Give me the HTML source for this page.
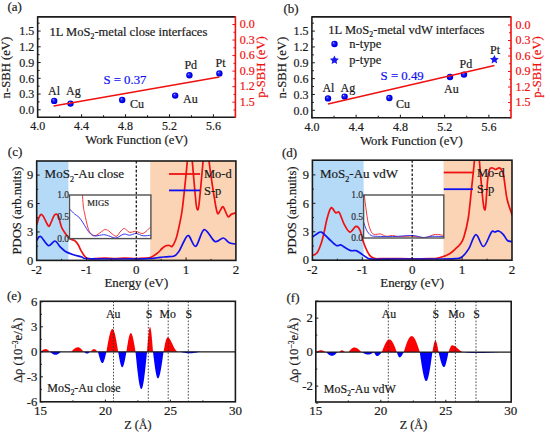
<!DOCTYPE html>
<html><head><meta charset="utf-8"><style>
html,body{margin:0;padding:0;background:#fff;}
svg{display:block;font-family:"Liberation Serif", serif;}
</style></head><body>
<svg width="550" height="435" viewBox="0 0 550 435">
<rect width="550" height="435" fill="#ffffff"/>
<defs><radialGradient id="ball" cx="0.5" cy="0.5" r="0.5" fx="0.33" fy="0.3"><stop offset="0" stop-color="#e8e8ff"/><stop offset="0.22" stop-color="#3838ff"/><stop offset="0.7" stop-color="#0000f0"/><stop offset="1" stop-color="#0000d0"/></radialGradient></defs>
<text x="7.50" y="10.60" font-size="13" text-anchor="start" fill="#1a1a1a" stroke="#1a1a1a" stroke-width="0.2" >(a)</text>
<line x1="37.65" y1="16.90" x2="235.40" y2="16.90" stroke="#1a1a1a" stroke-width="1.6" />
<line x1="37.65" y1="16.20" x2="37.65" y2="117.90" stroke="#1a1a1a" stroke-width="1.6" />
<line x1="37.65" y1="117.20" x2="235.40" y2="117.20" stroke="#1a1a1a" stroke-width="1.6" />
<line x1="235.40" y1="16.20" x2="235.40" y2="117.90" stroke="#f01010" stroke-width="1.6" />
<line x1="37.65" y1="109.80" x2="40.65" y2="109.80" stroke="#1a1a1a" stroke-width="1.0" />
<line x1="37.65" y1="101.92" x2="39.65" y2="101.92" stroke="#1a1a1a" stroke-width="1.0" />
<line x1="37.65" y1="94.05" x2="40.65" y2="94.05" stroke="#1a1a1a" stroke-width="1.0" />
<line x1="37.65" y1="86.17" x2="39.65" y2="86.17" stroke="#1a1a1a" stroke-width="1.0" />
<line x1="37.65" y1="78.30" x2="40.65" y2="78.30" stroke="#1a1a1a" stroke-width="1.0" />
<line x1="37.65" y1="70.42" x2="39.65" y2="70.42" stroke="#1a1a1a" stroke-width="1.0" />
<line x1="37.65" y1="62.55" x2="40.65" y2="62.55" stroke="#1a1a1a" stroke-width="1.0" />
<line x1="37.65" y1="54.67" x2="39.65" y2="54.67" stroke="#1a1a1a" stroke-width="1.0" />
<line x1="37.65" y1="46.80" x2="40.65" y2="46.80" stroke="#1a1a1a" stroke-width="1.0" />
<line x1="37.65" y1="38.92" x2="39.65" y2="38.92" stroke="#1a1a1a" stroke-width="1.0" />
<line x1="37.65" y1="31.05" x2="40.65" y2="31.05" stroke="#1a1a1a" stroke-width="1.0" />
<line x1="37.65" y1="23.17" x2="39.65" y2="23.17" stroke="#1a1a1a" stroke-width="1.0" />
<text x="34.15" y="114.10" font-size="12" text-anchor="end" fill="#1a1a1a" stroke="#1a1a1a" stroke-width="0.2" >0.0</text>
<text x="34.15" y="98.35" font-size="12" text-anchor="end" fill="#1a1a1a" stroke="#1a1a1a" stroke-width="0.2" >0.3</text>
<text x="34.15" y="82.60" font-size="12" text-anchor="end" fill="#1a1a1a" stroke="#1a1a1a" stroke-width="0.2" >0.6</text>
<text x="34.15" y="66.85" font-size="12" text-anchor="end" fill="#1a1a1a" stroke="#1a1a1a" stroke-width="0.2" >0.9</text>
<text x="34.15" y="51.10" font-size="12" text-anchor="end" fill="#1a1a1a" stroke="#1a1a1a" stroke-width="0.2" >1.2</text>
<text x="34.15" y="35.35" font-size="12" text-anchor="end" fill="#1a1a1a" stroke="#1a1a1a" stroke-width="0.2" >1.5</text>
<line x1="235.40" y1="24.50" x2="232.40" y2="24.50" stroke="#f01010" stroke-width="1.0" />
<line x1="235.40" y1="32.27" x2="233.40" y2="32.27" stroke="#f01010" stroke-width="1.0" />
<line x1="235.40" y1="40.04" x2="232.40" y2="40.04" stroke="#f01010" stroke-width="1.0" />
<line x1="235.40" y1="47.81" x2="233.40" y2="47.81" stroke="#f01010" stroke-width="1.0" />
<line x1="235.40" y1="55.58" x2="232.40" y2="55.58" stroke="#f01010" stroke-width="1.0" />
<line x1="235.40" y1="63.35" x2="233.40" y2="63.35" stroke="#f01010" stroke-width="1.0" />
<line x1="235.40" y1="71.12" x2="232.40" y2="71.12" stroke="#f01010" stroke-width="1.0" />
<line x1="235.40" y1="78.89" x2="233.40" y2="78.89" stroke="#f01010" stroke-width="1.0" />
<line x1="235.40" y1="86.66" x2="232.40" y2="86.66" stroke="#f01010" stroke-width="1.0" />
<line x1="235.40" y1="94.43" x2="233.40" y2="94.43" stroke="#f01010" stroke-width="1.0" />
<line x1="235.40" y1="102.20" x2="232.40" y2="102.20" stroke="#f01010" stroke-width="1.0" />
<line x1="235.40" y1="109.97" x2="233.40" y2="109.97" stroke="#f01010" stroke-width="1.0" />
<text x="239.80" y="28.10" font-size="12" text-anchor="start" fill="#f01010" stroke="#f01010" stroke-width="0.2" >0.0</text>
<text x="239.80" y="43.64" font-size="12" text-anchor="start" fill="#f01010" stroke="#f01010" stroke-width="0.2" >0.3</text>
<text x="239.80" y="59.18" font-size="12" text-anchor="start" fill="#f01010" stroke="#f01010" stroke-width="0.2" >0.6</text>
<text x="239.80" y="74.72" font-size="12" text-anchor="start" fill="#f01010" stroke="#f01010" stroke-width="0.2" >0.9</text>
<text x="239.80" y="90.26" font-size="12" text-anchor="start" fill="#f01010" stroke="#f01010" stroke-width="0.2" >1.2</text>
<text x="239.80" y="105.80" font-size="12" text-anchor="start" fill="#f01010" stroke="#f01010" stroke-width="0.2" >1.5</text>
<line x1="37.65" y1="117.20" x2="37.65" y2="114.20" stroke="#1a1a1a" stroke-width="1.0" />
<line x1="59.62" y1="117.20" x2="59.62" y2="115.20" stroke="#1a1a1a" stroke-width="1.0" />
<line x1="81.59" y1="117.20" x2="81.59" y2="114.20" stroke="#1a1a1a" stroke-width="1.0" />
<line x1="103.57" y1="117.20" x2="103.57" y2="115.20" stroke="#1a1a1a" stroke-width="1.0" />
<line x1="125.54" y1="117.20" x2="125.54" y2="114.20" stroke="#1a1a1a" stroke-width="1.0" />
<line x1="147.51" y1="117.20" x2="147.51" y2="115.20" stroke="#1a1a1a" stroke-width="1.0" />
<line x1="169.48" y1="117.20" x2="169.48" y2="114.20" stroke="#1a1a1a" stroke-width="1.0" />
<line x1="191.46" y1="117.20" x2="191.46" y2="115.20" stroke="#1a1a1a" stroke-width="1.0" />
<line x1="213.43" y1="117.20" x2="213.43" y2="114.20" stroke="#1a1a1a" stroke-width="1.0" />
<text x="37.65" y="130.30" font-size="12" text-anchor="middle" fill="#1a1a1a" stroke="#1a1a1a" stroke-width="0.2" >4.0</text>
<text x="81.59" y="130.30" font-size="12" text-anchor="middle" fill="#1a1a1a" stroke="#1a1a1a" stroke-width="0.2" >4.4</text>
<text x="125.54" y="130.30" font-size="12" text-anchor="middle" fill="#1a1a1a" stroke="#1a1a1a" stroke-width="0.2" >4.8</text>
<text x="169.48" y="130.30" font-size="12" text-anchor="middle" fill="#1a1a1a" stroke="#1a1a1a" stroke-width="0.2" >5.2</text>
<text x="213.43" y="130.30" font-size="12" text-anchor="middle" fill="#1a1a1a" stroke="#1a1a1a" stroke-width="0.2" >5.6</text>
<text x="136.53" y="144.00" font-size="12.7" text-anchor="middle" fill="#1a1a1a" stroke="#1a1a1a" stroke-width="0.2" >Work Function (eV)</text>
<text transform="translate(10.35,67.60) rotate(-90)" font-size="12.7" text-anchor="middle" fill="#1a1a1a" stroke="#1a1a1a" stroke-width="0.2">n-SBH (eV)</text>
<text transform="translate(265.30,67.00) rotate(-90)" font-size="12.7" text-anchor="middle" fill="#f01010" stroke="#f01010" stroke-width="0.2">p-SBH (eV)</text>
<text x="49.50" y="35.50" font-size="12.55" text-anchor="start" fill="#1a1a1a" stroke="#1a1a1a" stroke-width="0.2" >1L MoS<tspan font-size="0.62em" dy="0.45em">2</tspan><tspan dy="-0.279em">-metal close interfaces</tspan></text>
<circle cx="54.20" cy="100.90" r="3.2" fill="url(#ball)"/>
<circle cx="70.50" cy="103.60" r="3.2" fill="url(#ball)"/>
<circle cx="122.20" cy="100.00" r="3.2" fill="url(#ball)"/>
<circle cx="175.20" cy="95.60" r="3.2" fill="url(#ball)"/>
<circle cx="189.40" cy="75.20" r="3.2" fill="url(#ball)"/>
<circle cx="219.40" cy="73.40" r="3.2" fill="url(#ball)"/>
<line x1="53.60" y1="106.00" x2="219.40" y2="77.00" stroke="#f01010" stroke-width="1.5" />
<text x="48.00" y="94.50" font-size="12" text-anchor="start" fill="#1a1a1a" stroke="#1a1a1a" stroke-width="0.2" >Al</text>
<text x="66.00" y="95.00" font-size="12" text-anchor="start" fill="#1a1a1a" stroke="#1a1a1a" stroke-width="0.2" >Ag</text>
<text x="130.00" y="107.60" font-size="12" text-anchor="start" fill="#1a1a1a" stroke="#1a1a1a" stroke-width="0.2" >Cu</text>
<text x="183.00" y="103.40" font-size="12" text-anchor="start" fill="#1a1a1a" stroke="#1a1a1a" stroke-width="0.2" >Au</text>
<text x="184.40" y="69.00" font-size="12" text-anchor="start" fill="#1a1a1a" stroke="#1a1a1a" stroke-width="0.2" >Pd</text>
<text x="215.60" y="67.00" font-size="12" text-anchor="start" fill="#1a1a1a" stroke="#1a1a1a" stroke-width="0.2" >Pt</text>
<text x="103.40" y="84.00" font-size="12.8" text-anchor="start" fill="#1010f0" stroke="#1010f0" stroke-width="0.2" >S = 0.37</text>
<text x="283.50" y="13.00" font-size="13" text-anchor="start" fill="#1a1a1a" stroke="#1a1a1a" stroke-width="0.2" >(b)</text>
<line x1="311.90" y1="16.90" x2="511.00" y2="16.90" stroke="#1a1a1a" stroke-width="1.6" />
<line x1="311.90" y1="16.20" x2="311.90" y2="118.40" stroke="#1a1a1a" stroke-width="1.6" />
<line x1="311.90" y1="117.70" x2="511.00" y2="117.70" stroke="#1a1a1a" stroke-width="1.6" />
<line x1="511.00" y1="16.20" x2="511.00" y2="118.40" stroke="#f01010" stroke-width="1.6" />
<line x1="311.90" y1="110.30" x2="314.90" y2="110.30" stroke="#1a1a1a" stroke-width="1.0" />
<line x1="311.90" y1="102.38" x2="313.90" y2="102.38" stroke="#1a1a1a" stroke-width="1.0" />
<line x1="311.90" y1="94.46" x2="314.90" y2="94.46" stroke="#1a1a1a" stroke-width="1.0" />
<line x1="311.90" y1="86.54" x2="313.90" y2="86.54" stroke="#1a1a1a" stroke-width="1.0" />
<line x1="311.90" y1="78.62" x2="314.90" y2="78.62" stroke="#1a1a1a" stroke-width="1.0" />
<line x1="311.90" y1="70.70" x2="313.90" y2="70.70" stroke="#1a1a1a" stroke-width="1.0" />
<line x1="311.90" y1="62.78" x2="314.90" y2="62.78" stroke="#1a1a1a" stroke-width="1.0" />
<line x1="311.90" y1="54.86" x2="313.90" y2="54.86" stroke="#1a1a1a" stroke-width="1.0" />
<line x1="311.90" y1="46.94" x2="314.90" y2="46.94" stroke="#1a1a1a" stroke-width="1.0" />
<line x1="311.90" y1="39.02" x2="313.90" y2="39.02" stroke="#1a1a1a" stroke-width="1.0" />
<line x1="311.90" y1="31.10" x2="314.90" y2="31.10" stroke="#1a1a1a" stroke-width="1.0" />
<line x1="311.90" y1="23.18" x2="313.90" y2="23.18" stroke="#1a1a1a" stroke-width="1.0" />
<text x="308.40" y="114.60" font-size="12" text-anchor="end" fill="#1a1a1a" stroke="#1a1a1a" stroke-width="0.2" >0.0</text>
<text x="308.40" y="98.76" font-size="12" text-anchor="end" fill="#1a1a1a" stroke="#1a1a1a" stroke-width="0.2" >0.3</text>
<text x="308.40" y="82.92" font-size="12" text-anchor="end" fill="#1a1a1a" stroke="#1a1a1a" stroke-width="0.2" >0.6</text>
<text x="308.40" y="67.08" font-size="12" text-anchor="end" fill="#1a1a1a" stroke="#1a1a1a" stroke-width="0.2" >0.9</text>
<text x="308.40" y="51.24" font-size="12" text-anchor="end" fill="#1a1a1a" stroke="#1a1a1a" stroke-width="0.2" >1.2</text>
<text x="308.40" y="35.40" font-size="12" text-anchor="end" fill="#1a1a1a" stroke="#1a1a1a" stroke-width="0.2" >1.5</text>
<line x1="511.00" y1="25.00" x2="508.00" y2="25.00" stroke="#f01010" stroke-width="1.0" />
<line x1="511.00" y1="32.76" x2="509.00" y2="32.76" stroke="#f01010" stroke-width="1.0" />
<line x1="511.00" y1="40.51" x2="508.00" y2="40.51" stroke="#f01010" stroke-width="1.0" />
<line x1="511.00" y1="48.27" x2="509.00" y2="48.27" stroke="#f01010" stroke-width="1.0" />
<line x1="511.00" y1="56.02" x2="508.00" y2="56.02" stroke="#f01010" stroke-width="1.0" />
<line x1="511.00" y1="63.78" x2="509.00" y2="63.78" stroke="#f01010" stroke-width="1.0" />
<line x1="511.00" y1="71.53" x2="508.00" y2="71.53" stroke="#f01010" stroke-width="1.0" />
<line x1="511.00" y1="79.28" x2="509.00" y2="79.28" stroke="#f01010" stroke-width="1.0" />
<line x1="511.00" y1="87.04" x2="508.00" y2="87.04" stroke="#f01010" stroke-width="1.0" />
<line x1="511.00" y1="94.80" x2="509.00" y2="94.80" stroke="#f01010" stroke-width="1.0" />
<line x1="511.00" y1="102.55" x2="508.00" y2="102.55" stroke="#f01010" stroke-width="1.0" />
<line x1="511.00" y1="110.31" x2="509.00" y2="110.31" stroke="#f01010" stroke-width="1.0" />
<text x="515.40" y="28.60" font-size="12" text-anchor="start" fill="#f01010" stroke="#f01010" stroke-width="0.2" >0.0</text>
<text x="515.40" y="44.11" font-size="12" text-anchor="start" fill="#f01010" stroke="#f01010" stroke-width="0.2" >0.3</text>
<text x="515.40" y="59.62" font-size="12" text-anchor="start" fill="#f01010" stroke="#f01010" stroke-width="0.2" >0.6</text>
<text x="515.40" y="75.13" font-size="12" text-anchor="start" fill="#f01010" stroke="#f01010" stroke-width="0.2" >0.9</text>
<text x="515.40" y="90.64" font-size="12" text-anchor="start" fill="#f01010" stroke="#f01010" stroke-width="0.2" >1.2</text>
<text x="515.40" y="106.15" font-size="12" text-anchor="start" fill="#f01010" stroke="#f01010" stroke-width="0.2" >1.5</text>
<line x1="311.90" y1="117.70" x2="311.90" y2="114.70" stroke="#1a1a1a" stroke-width="1.0" />
<line x1="334.02" y1="117.70" x2="334.02" y2="115.70" stroke="#1a1a1a" stroke-width="1.0" />
<line x1="356.14" y1="117.70" x2="356.14" y2="114.70" stroke="#1a1a1a" stroke-width="1.0" />
<line x1="378.27" y1="117.70" x2="378.27" y2="115.70" stroke="#1a1a1a" stroke-width="1.0" />
<line x1="400.39" y1="117.70" x2="400.39" y2="114.70" stroke="#1a1a1a" stroke-width="1.0" />
<line x1="422.51" y1="117.70" x2="422.51" y2="115.70" stroke="#1a1a1a" stroke-width="1.0" />
<line x1="444.63" y1="117.70" x2="444.63" y2="114.70" stroke="#1a1a1a" stroke-width="1.0" />
<line x1="466.76" y1="117.70" x2="466.76" y2="115.70" stroke="#1a1a1a" stroke-width="1.0" />
<line x1="488.88" y1="117.70" x2="488.88" y2="114.70" stroke="#1a1a1a" stroke-width="1.0" />
<text x="311.90" y="130.80" font-size="12" text-anchor="middle" fill="#1a1a1a" stroke="#1a1a1a" stroke-width="0.2" >4.0</text>
<text x="356.14" y="130.80" font-size="12" text-anchor="middle" fill="#1a1a1a" stroke="#1a1a1a" stroke-width="0.2" >4.4</text>
<text x="400.39" y="130.80" font-size="12" text-anchor="middle" fill="#1a1a1a" stroke="#1a1a1a" stroke-width="0.2" >4.8</text>
<text x="444.63" y="130.80" font-size="12" text-anchor="middle" fill="#1a1a1a" stroke="#1a1a1a" stroke-width="0.2" >5.2</text>
<text x="488.88" y="130.80" font-size="12" text-anchor="middle" fill="#1a1a1a" stroke="#1a1a1a" stroke-width="0.2" >5.6</text>
<text x="411.45" y="144.50" font-size="12.7" text-anchor="middle" fill="#1a1a1a" stroke="#1a1a1a" stroke-width="0.2" >Work Function (eV)</text>
<text transform="translate(285.50,67.60) rotate(-90)" font-size="12.7" text-anchor="middle" fill="#1a1a1a" stroke="#1a1a1a" stroke-width="0.2">n-SBH (eV)</text>
<text transform="translate(540.90,67.00) rotate(-90)" font-size="12.7" text-anchor="middle" fill="#f01010" stroke="#f01010" stroke-width="0.2">p-SBH (eV)</text>
<text x="328.30" y="33.80" font-size="12.55" text-anchor="start" fill="#1a1a1a" stroke="#1a1a1a" stroke-width="0.2" >1L MoS<tspan font-size="0.62em" dy="0.45em">2</tspan><tspan dy="-0.279em">-metal vdW interfaces</tspan></text>
<circle cx="328.00" cy="98.40" r="3.2" fill="url(#ball)"/>
<circle cx="344.60" cy="96.60" r="3.2" fill="url(#ball)"/>
<circle cx="389.40" cy="98.00" r="3.2" fill="url(#ball)"/>
<circle cx="450.00" cy="77.00" r="3.2" fill="url(#ball)"/>
<circle cx="464.00" cy="74.60" r="3.2" fill="url(#ball)"/>
<polygon points="494.40,54.90 495.73,57.77 498.87,58.15 496.55,60.30 497.16,63.40 494.40,61.86 491.64,63.40 492.25,60.30 489.93,58.15 493.07,57.77" fill="#1a1aee"/>
<line x1="328.00" y1="104.00" x2="494.40" y2="65.60" stroke="#f01010" stroke-width="1.5" />
<text x="322.40" y="92.00" font-size="12" text-anchor="start" fill="#1a1a1a" stroke="#1a1a1a" stroke-width="0.2" >Al</text>
<text x="340.60" y="92.00" font-size="12" text-anchor="start" fill="#1a1a1a" stroke="#1a1a1a" stroke-width="0.2" >Ag</text>
<text x="396.00" y="108.00" font-size="12" text-anchor="start" fill="#1a1a1a" stroke="#1a1a1a" stroke-width="0.2" >Cu</text>
<text x="444.00" y="93.20" font-size="12" text-anchor="start" fill="#1a1a1a" stroke="#1a1a1a" stroke-width="0.2" >Au</text>
<text x="459.60" y="67.70" font-size="12" text-anchor="start" fill="#1a1a1a" stroke="#1a1a1a" stroke-width="0.2" >Pd</text>
<text x="490.00" y="54.00" font-size="12" text-anchor="start" fill="#1a1a1a" stroke="#1a1a1a" stroke-width="0.2" >Pt</text>
<text x="380.60" y="80.40" font-size="12.8" text-anchor="start" fill="#1010f0" stroke="#1010f0" stroke-width="0.2" >S = 0.49</text>
<circle cx="334.50" cy="44.00" r="3.2" fill="url(#ball)"/>
<text x="349.30" y="47.80" font-size="12.5" text-anchor="start" fill="#1a1a1a" stroke="#1a1a1a" stroke-width="0.2" >n-type</text>
<polygon points="334.40,55.50 335.73,58.37 338.87,58.75 336.55,60.90 337.16,64.00 334.40,62.46 331.64,64.00 332.25,60.90 329.93,58.75 333.07,58.37" fill="#1a1aee"/>
<text x="349.30" y="63.50" font-size="12.5" text-anchor="start" fill="#1a1a1a" stroke="#1a1a1a" stroke-width="0.2" >p-type</text>
<text x="7.80" y="156.40" font-size="13" text-anchor="start" fill="#1a1a1a" stroke="#1a1a1a" stroke-width="0.2" >(c)</text>
<rect x="36.70" y="161.00" width="31.70" height="99.40" fill="#b5daf7" stroke="none" stroke-width="1.0" />
<rect x="150.20" y="161.00" width="85.70" height="99.40" fill="#fad4b5" stroke="none" stroke-width="1.0" />
<clipPath id="clipc"><rect x="36.7" y="161.0" width="199.2" height="99.39999999999998"/></clipPath>
<g clip-path="url(#clipc)">
<path d="M36.70,224.70 C37.08,223.50 38.25,219.22 39.00,217.50 C39.75,215.78 40.47,214.57 41.20,214.40 C41.93,214.23 42.20,214.57 43.40,216.50 C44.60,218.43 47.20,224.83 48.40,226.00 C49.60,227.17 49.68,225.17 50.60,223.50 C51.52,221.83 52.95,217.55 53.90,216.00 C54.85,214.45 55.53,214.12 56.30,214.20 C57.07,214.28 57.62,214.32 58.50,216.50 C59.38,218.68 60.43,224.42 61.60,227.30 C62.77,230.18 64.30,232.05 65.50,233.80 C66.70,235.55 67.80,236.83 68.80,237.80 C69.80,238.77 70.52,239.13 71.50,239.60 C72.48,240.07 73.63,239.82 74.70,240.60 C75.77,241.38 76.82,242.58 77.90,244.30 C78.98,246.02 80.00,248.82 81.20,250.90 C82.40,252.98 83.97,255.53 85.10,256.80 C86.23,258.07 86.35,258.18 88.00,258.50 C89.65,258.82 92.17,258.75 95.00,258.70 C97.83,258.65 101.67,258.20 105.00,258.20 C108.33,258.20 111.67,258.70 115.00,258.70 C118.33,258.70 121.50,258.20 125.00,258.20 C128.50,258.20 132.58,258.70 136.00,258.70 C139.42,258.70 143.00,258.43 145.50,258.20 C148.00,257.97 148.92,258.22 151.00,257.30 C153.08,256.38 156.17,254.17 158.00,252.70 C159.83,251.23 160.67,249.65 162.00,248.50 C163.33,247.35 164.75,246.30 166.00,245.80 C167.25,245.30 168.50,245.38 169.50,245.50 C170.50,245.62 171.00,247.37 172.00,246.50 C173.00,245.63 174.43,243.12 175.50,240.30 C176.57,237.48 177.30,234.57 178.40,229.60 C179.50,224.63 180.95,218.45 182.10,210.50 C183.25,202.55 184.42,190.32 185.30,181.90 C186.18,173.48 186.65,168.98 187.40,160.00 C188.15,151.02 189.00,128.00 189.80,128.00 C190.60,128.00 191.20,147.83 192.20,160.00 C193.20,172.17 194.97,192.78 195.80,201.00 C196.63,209.22 196.65,208.88 197.20,209.30 C197.75,209.72 198.10,211.72 199.10,203.50 C200.10,195.28 202.05,172.58 203.20,160.00 C204.35,147.42 205.05,128.00 206.00,128.00 C206.95,128.00 207.62,149.03 208.90,160.00 C210.18,170.97 212.30,184.98 213.70,193.80 C215.10,202.62 216.17,210.20 217.30,212.90 C218.43,215.60 219.52,211.00 220.50,210.00 C221.48,209.00 221.95,205.82 223.20,206.90 C224.45,207.98 226.60,215.30 228.00,216.50 C229.40,217.70 230.10,214.77 231.60,214.10 C233.10,213.43 236.10,212.77 237.00,212.50" stroke="#f01010" stroke-width="1.7" fill="none" />
<path d="M36.70,240.40 C37.35,239.75 38.65,235.63 40.60,236.50 C42.55,237.37 46.00,244.85 48.40,245.60 C50.80,246.35 53.03,240.78 55.00,241.00 C56.97,241.22 58.45,245.15 60.20,246.90 C61.95,248.65 63.42,250.23 65.50,251.50 C67.58,252.77 69.98,253.58 72.70,254.50 C75.42,255.42 79.37,256.30 81.80,257.00 C84.23,257.70 80.93,258.37 87.30,258.70 C93.67,259.03 109.72,259.00 120.00,259.00 C130.28,259.00 142.33,258.98 149.00,258.70 C155.67,258.42 157.08,257.62 160.00,257.30 C162.92,256.98 164.12,257.03 166.50,256.80 C168.88,256.57 172.20,256.85 174.30,255.90 C176.40,254.95 177.50,253.50 179.10,251.10 C180.70,248.70 182.32,244.08 183.90,241.50 C185.48,238.92 186.62,234.80 188.60,235.60 C190.58,236.40 193.20,247.30 195.80,246.30 C198.40,245.30 201.02,230.40 204.20,229.60 C207.38,228.80 211.73,240.10 214.90,241.50 C218.07,242.90 220.82,237.80 223.20,238.00 C225.58,238.20 226.90,241.67 229.20,242.70 C231.50,243.73 235.70,243.95 237.00,244.20" stroke="#1010f0" stroke-width="1.7" fill="none" />
</g>
<clipPath id="iclipc"><rect x="69.5" y="195.0" width="81.4" height="43.599999999999994"/></clipPath>
<rect x="69.50" y="195.00" width="81.40" height="43.60" fill="#ffffff" stroke="none" stroke-width="1.0" />
<g clip-path="url(#iclipc)">
<path d="M81.50,180.00 C81.78,184.17 82.70,199.52 83.20,205.00 C83.70,210.48 83.95,210.07 84.50,212.90 C85.05,215.73 85.85,219.28 86.50,222.00 C87.15,224.72 87.65,227.23 88.40,229.20 C89.15,231.17 89.88,232.73 91.00,233.80 C92.12,234.87 93.77,235.65 95.10,235.60 C96.43,235.55 97.60,234.40 99.00,233.50 C100.40,232.60 102.37,230.85 103.50,230.20 C104.63,229.55 104.97,229.50 105.80,229.60 C106.63,229.70 106.82,229.68 108.50,230.80 C110.18,231.92 113.98,236.10 115.90,236.30 C117.82,236.50 118.68,233.30 120.00,232.00 C121.32,230.70 122.72,228.83 123.80,228.50 C124.88,228.17 125.47,229.35 126.50,230.00 C127.53,230.65 128.47,232.18 130.00,232.40 C131.53,232.62 133.72,231.12 135.70,231.30 C137.68,231.48 140.18,233.47 141.90,233.50 C143.62,233.53 144.48,232.67 146.00,231.50 C147.52,230.33 150.17,227.33 151.00,226.50" stroke="#f03838" stroke-width="1.0" fill="none" />
<path d="M69.50,208.90 C70.37,209.78 73.18,212.88 74.70,214.20 C76.22,215.52 77.30,215.50 78.60,216.80 C79.90,218.10 81.18,220.03 82.50,222.00 C83.82,223.97 85.18,226.63 86.50,228.60 C87.82,230.57 88.97,232.57 90.40,233.80 C91.83,235.03 92.92,235.85 95.10,236.00 C97.28,236.15 101.25,234.73 103.50,234.70 C105.75,234.67 106.53,235.25 108.60,235.80 C110.67,236.35 113.37,238.28 115.90,238.00 C118.43,237.72 121.53,234.57 123.80,234.10 C126.07,233.63 127.43,235.30 129.50,235.20 C131.57,235.10 133.95,233.40 136.20,233.50 C138.45,233.60 140.53,235.52 143.00,235.80 C145.47,236.08 149.67,235.30 151.00,235.20" stroke="#3838f0" stroke-width="1.0" fill="none" />
</g>
<line x1="136.30" y1="161.00" x2="136.30" y2="260.40" stroke="#1a1a1a" stroke-width="1.3" stroke-dasharray="2.6,1.8"/>
<rect x="69.50" y="195.00" width="81.40" height="43.60" fill="none" stroke="#505050" stroke-width="1.4" />
<text x="87.30" y="206.00" font-size="8.7" text-anchor="start" fill="#1a1a1a" stroke="#1a1a1a" stroke-width="0.2" >MIGS</text>
<text x="69.00" y="241.80" font-size="9.5" text-anchor="end" fill="#333" stroke="#333" stroke-width="0.2" >0.0</text>
<text x="69.00" y="220.00" font-size="9.5" text-anchor="end" fill="#333" stroke="#333" stroke-width="0.2" >0.5</text>
<text x="69.00" y="198.20" font-size="9.5" text-anchor="end" fill="#333" stroke="#333" stroke-width="0.2" >1.0</text>
<line x1="169.00" y1="174.00" x2="200.00" y2="174.00" stroke="#f01010" stroke-width="1.8" />
<text x="204.00" y="178.20" font-size="12.5" text-anchor="start" fill="#1a1a1a" stroke="#1a1a1a" stroke-width="0.2" >Mo-d</text>
<line x1="169.00" y1="190.40" x2="200.00" y2="190.40" stroke="#1010f0" stroke-width="1.8" />
<text x="204.00" y="194.60" font-size="12.5" text-anchor="start" fill="#1a1a1a" stroke="#1a1a1a" stroke-width="0.2" >S-p</text>
<text x="44.60" y="177.90" font-size="13" text-anchor="start" fill="#1a1a1a" stroke="#1a1a1a" stroke-width="0.2" >MoS<tspan font-size="0.62em" dy="0.45em">2</tspan><tspan dy="-0.279em">-Au close</tspan></text>
<rect x="36.70" y="161.00" width="199.20" height="99.40" fill="none" stroke="#1a1a1a" stroke-width="1.6" />
<line x1="36.70" y1="260.40" x2="39.70" y2="260.40" stroke="#1a1a1a" stroke-width="1.0" />
<line x1="36.70" y1="246.18" x2="38.20" y2="246.18" stroke="#1a1a1a" stroke-width="1.0" />
<line x1="36.70" y1="231.96" x2="39.70" y2="231.96" stroke="#1a1a1a" stroke-width="1.0" />
<line x1="36.70" y1="217.74" x2="38.20" y2="217.74" stroke="#1a1a1a" stroke-width="1.0" />
<line x1="36.70" y1="203.52" x2="39.70" y2="203.52" stroke="#1a1a1a" stroke-width="1.0" />
<line x1="36.70" y1="189.30" x2="38.20" y2="189.30" stroke="#1a1a1a" stroke-width="1.0" />
<line x1="36.70" y1="175.08" x2="39.70" y2="175.08" stroke="#1a1a1a" stroke-width="1.0" />
<text x="33.20" y="264.60" font-size="12.5" text-anchor="end" fill="#1a1a1a" stroke="#1a1a1a" stroke-width="0.2" >0</text>
<text x="33.20" y="236.16" font-size="12.5" text-anchor="end" fill="#1a1a1a" stroke="#1a1a1a" stroke-width="0.2" >3</text>
<text x="33.20" y="207.72" font-size="12.5" text-anchor="end" fill="#1a1a1a" stroke="#1a1a1a" stroke-width="0.2" >6</text>
<text x="33.20" y="179.28" font-size="12.5" text-anchor="end" fill="#1a1a1a" stroke="#1a1a1a" stroke-width="0.2" >9</text>
<line x1="61.60" y1="260.40" x2="61.60" y2="258.90" stroke="#1a1a1a" stroke-width="1.0" />
<line x1="86.50" y1="260.40" x2="86.50" y2="257.40" stroke="#1a1a1a" stroke-width="1.0" />
<line x1="111.40" y1="260.40" x2="111.40" y2="258.90" stroke="#1a1a1a" stroke-width="1.0" />
<line x1="136.30" y1="260.40" x2="136.30" y2="257.40" stroke="#1a1a1a" stroke-width="1.0" />
<line x1="161.20" y1="260.40" x2="161.20" y2="258.90" stroke="#1a1a1a" stroke-width="1.0" />
<line x1="186.10" y1="260.40" x2="186.10" y2="257.40" stroke="#1a1a1a" stroke-width="1.0" />
<line x1="211.00" y1="260.40" x2="211.00" y2="258.90" stroke="#1a1a1a" stroke-width="1.0" />
<text x="36.70" y="273.90" font-size="13" text-anchor="middle" fill="#1a1a1a" stroke="#1a1a1a" stroke-width="0.2" >-2</text>
<text x="86.50" y="273.90" font-size="13" text-anchor="middle" fill="#1a1a1a" stroke="#1a1a1a" stroke-width="0.2" >-1</text>
<text x="136.30" y="273.90" font-size="13" text-anchor="middle" fill="#1a1a1a" stroke="#1a1a1a" stroke-width="0.2" >0</text>
<text x="186.10" y="273.90" font-size="13" text-anchor="middle" fill="#1a1a1a" stroke="#1a1a1a" stroke-width="0.2" >1</text>
<text x="235.90" y="273.90" font-size="13" text-anchor="middle" fill="#1a1a1a" stroke="#1a1a1a" stroke-width="0.2" >2</text>
<text x="136.30" y="287.20" font-size="12.9" text-anchor="middle" fill="#1a1a1a" stroke="#1a1a1a" stroke-width="0.2" >Energy (eV)</text>
<text transform="translate(20.50,210.50) rotate(-90)" font-size="12.7" text-anchor="middle" fill="#1a1a1a" stroke="#1a1a1a" stroke-width="0.2">PDOS (arb.nuits)</text>
<text x="282.00" y="157.30" font-size="13" text-anchor="start" fill="#1a1a1a" stroke="#1a1a1a" stroke-width="0.2" >(d)</text>
<rect x="312.40" y="160.20" width="51.20" height="100.00" fill="#b5daf7" stroke="none" stroke-width="1.0" />
<rect x="443.50" y="160.20" width="68.50" height="100.00" fill="#fad4b5" stroke="none" stroke-width="1.0" />
<clipPath id="clipd"><rect x="312.4" y="160.2" width="199.60000000000002" height="100.0"/></clipPath>
<g clip-path="url(#clipd)">
<path d="M312.10,255.60 C312.93,255.13 315.55,254.93 317.10,252.80 C318.65,250.67 320.20,246.37 321.40,242.80 C322.60,239.23 323.35,235.45 324.30,231.40 C325.25,227.35 325.97,222.43 327.10,218.50 C328.23,214.57 329.67,208.75 331.10,207.80 C332.53,206.85 334.35,212.00 335.70,212.80 C337.05,213.60 337.78,210.68 339.20,212.60 C340.62,214.52 342.42,221.05 344.20,224.30 C345.98,227.55 347.95,231.75 349.90,232.10 C351.85,232.45 354.23,226.75 355.90,226.40 C357.57,226.05 358.52,227.03 359.90,230.00 C361.28,232.97 362.53,239.93 364.20,244.20 C365.87,248.47 368.00,253.22 369.90,255.60 C371.80,257.98 373.92,257.98 375.60,258.50 C377.28,259.02 375.93,258.67 380.00,258.70 C384.07,258.73 391.67,258.70 400.00,258.70 C408.33,258.70 423.33,258.90 430.00,258.70 C436.67,258.50 436.73,258.33 440.00,257.50 C443.27,256.67 446.82,255.33 449.60,253.70 C452.38,252.07 454.92,249.30 456.70,247.70 C458.48,246.10 459.10,245.88 460.30,244.10 C461.50,242.32 462.57,241.35 463.90,237.00 C465.23,232.65 467.03,226.00 468.30,218.00 C469.57,210.00 470.47,198.67 471.50,189.00 C472.53,179.33 473.62,170.17 474.50,160.00 C475.38,149.83 476.00,128.00 476.80,128.00 C477.60,128.00 478.30,148.10 479.30,160.00 C480.30,171.90 481.92,191.12 482.80,199.40 C483.68,207.68 484.08,208.93 484.60,209.70 C485.12,210.47 485.40,208.95 485.90,204.00 C486.40,199.05 487.00,185.75 487.60,180.00 C488.20,174.25 488.67,171.50 489.50,169.50 C490.33,167.50 491.60,168.00 492.60,168.00 C493.60,168.00 494.30,169.50 495.50,169.50 C496.70,169.50 498.48,167.13 499.80,168.00 C501.12,168.87 502.20,169.58 503.40,174.70 C504.60,179.82 505.48,191.82 507.00,198.70 C508.52,205.58 511.58,213.12 512.50,216.00" stroke="#f01010" stroke-width="1.7" fill="none" />
<path d="M312.10,237.10 C312.83,236.62 314.95,235.03 316.50,234.20 C318.05,233.37 319.40,231.38 321.40,232.10 C323.40,232.82 326.00,236.28 328.50,238.50 C331.00,240.72 334.37,244.33 336.40,245.40 C338.43,246.47 339.40,244.62 340.70,244.90 C342.00,245.18 342.53,246.15 344.20,247.10 C345.87,248.05 348.75,250.02 350.70,250.60 C352.65,251.18 354.37,250.23 355.90,250.60 C357.43,250.97 358.03,251.60 359.90,252.80 C361.77,254.00 364.95,256.73 367.10,257.80 C369.25,258.87 367.32,259.00 372.80,259.20 C378.28,259.40 388.80,259.03 400.00,259.00 C411.20,258.97 430.83,259.07 440.00,259.00 C449.17,258.93 451.42,258.88 455.00,258.60 C458.58,258.32 459.22,258.92 461.50,257.30 C463.78,255.68 466.30,252.68 468.70,248.90 C471.10,245.12 473.43,235.00 475.90,234.60 C478.37,234.20 480.92,246.90 483.50,246.50 C486.08,246.10 489.48,234.62 491.40,232.20 C493.32,229.78 493.80,232.20 495.00,232.00 C496.20,231.80 497.20,230.57 498.60,231.00 C500.00,231.43 501.92,233.02 503.40,234.60 C504.88,236.18 505.98,239.32 507.50,240.50 C509.02,241.68 511.67,241.50 512.50,241.70" stroke="#1010f0" stroke-width="1.7" fill="none" />
</g>
<clipPath id="iclipd"><rect x="363.6" y="195.0" width="80.19999999999999" height="43.0"/></clipPath>
<rect x="363.60" y="195.00" width="80.20" height="43.00" fill="#ffffff" stroke="none" stroke-width="1.0" />
<g clip-path="url(#iclipd)">
<path d="M363.60,188.00 C363.72,189.17 363.93,191.78 364.30,195.00 C364.67,198.22 365.17,202.72 365.80,207.30 C366.43,211.88 367.20,218.43 368.10,222.50 C369.00,226.57 370.18,229.72 371.20,231.70 C372.22,233.68 372.68,234.02 374.20,234.40 C375.72,234.78 378.27,233.68 380.30,234.00 C382.33,234.32 384.37,236.05 386.40,236.30 C388.43,236.55 390.47,235.45 392.50,235.50 C394.53,235.55 396.05,236.47 398.60,236.60 C401.15,236.73 405.50,236.40 407.80,236.30 C410.10,236.20 410.70,235.88 412.40,236.00 C414.10,236.12 416.22,236.75 418.00,237.00 C419.78,237.25 421.50,237.50 423.10,237.50 C424.70,237.50 425.57,237.52 427.60,237.00 C429.63,236.48 432.57,234.65 435.30,234.40 C438.03,234.15 442.55,235.32 444.00,235.50" stroke="#f03838" stroke-width="1.0" fill="none" />
<path d="M363.60,221.80 C364.10,223.20 365.33,227.92 366.60,230.20 C367.87,232.48 369.42,234.48 371.20,235.50 C372.98,236.52 373.75,236.12 377.30,236.30 C380.85,236.48 386.65,236.73 392.50,236.60 C398.35,236.47 407.30,235.35 412.40,235.50 C417.50,235.65 419.80,237.37 423.10,237.50 C426.40,237.63 428.72,236.45 432.20,236.30 C435.68,236.15 442.03,236.55 444.00,236.60" stroke="#3838f0" stroke-width="1.0" fill="none" />
</g>
<line x1="412.20" y1="160.20" x2="412.20" y2="260.20" stroke="#1a1a1a" stroke-width="1.3" stroke-dasharray="2.6,1.8"/>
<rect x="363.60" y="195.00" width="80.20" height="43.00" fill="none" stroke="#505050" stroke-width="1.4" />
<text x="363.10" y="241.20" font-size="9.5" text-anchor="end" fill="#333" stroke="#333" stroke-width="0.2" >0.0</text>
<text x="363.10" y="219.70" font-size="9.5" text-anchor="end" fill="#333" stroke="#333" stroke-width="0.2" >0.5</text>
<text x="363.10" y="198.20" font-size="9.5" text-anchor="end" fill="#333" stroke="#333" stroke-width="0.2" >1.0</text>
<line x1="443.80" y1="172.50" x2="472.90" y2="172.50" stroke="#f01010" stroke-width="1.8" />
<text x="476.90" y="176.70" font-size="12.5" text-anchor="start" fill="#1a1a1a" stroke="#1a1a1a" stroke-width="0.2" >Mo-d</text>
<line x1="443.80" y1="189.20" x2="472.90" y2="189.20" stroke="#1010f0" stroke-width="1.8" />
<text x="476.90" y="193.40" font-size="12.5" text-anchor="start" fill="#1a1a1a" stroke="#1a1a1a" stroke-width="0.2" >S-p</text>
<text x="320.00" y="177.90" font-size="13" text-anchor="start" fill="#1a1a1a" stroke="#1a1a1a" stroke-width="0.2" >MoS<tspan font-size="0.62em" dy="0.45em">2</tspan><tspan dy="-0.279em">-Au vdW</tspan></text>
<rect x="312.40" y="160.20" width="199.60" height="100.00" fill="none" stroke="#1a1a1a" stroke-width="1.6" />
<line x1="312.40" y1="260.20" x2="315.40" y2="260.20" stroke="#1a1a1a" stroke-width="1.0" />
<line x1="312.40" y1="245.98" x2="313.90" y2="245.98" stroke="#1a1a1a" stroke-width="1.0" />
<line x1="312.40" y1="231.76" x2="315.40" y2="231.76" stroke="#1a1a1a" stroke-width="1.0" />
<line x1="312.40" y1="217.54" x2="313.90" y2="217.54" stroke="#1a1a1a" stroke-width="1.0" />
<line x1="312.40" y1="203.32" x2="315.40" y2="203.32" stroke="#1a1a1a" stroke-width="1.0" />
<line x1="312.40" y1="189.10" x2="313.90" y2="189.10" stroke="#1a1a1a" stroke-width="1.0" />
<line x1="312.40" y1="174.88" x2="315.40" y2="174.88" stroke="#1a1a1a" stroke-width="1.0" />
<text x="308.90" y="264.40" font-size="12.5" text-anchor="end" fill="#1a1a1a" stroke="#1a1a1a" stroke-width="0.2" >0</text>
<text x="308.90" y="235.96" font-size="12.5" text-anchor="end" fill="#1a1a1a" stroke="#1a1a1a" stroke-width="0.2" >3</text>
<text x="308.90" y="207.52" font-size="12.5" text-anchor="end" fill="#1a1a1a" stroke="#1a1a1a" stroke-width="0.2" >6</text>
<text x="308.90" y="179.08" font-size="12.5" text-anchor="end" fill="#1a1a1a" stroke="#1a1a1a" stroke-width="0.2" >9</text>
<line x1="337.35" y1="260.20" x2="337.35" y2="258.70" stroke="#1a1a1a" stroke-width="1.0" />
<line x1="362.30" y1="260.20" x2="362.30" y2="257.20" stroke="#1a1a1a" stroke-width="1.0" />
<line x1="387.25" y1="260.20" x2="387.25" y2="258.70" stroke="#1a1a1a" stroke-width="1.0" />
<line x1="412.20" y1="260.20" x2="412.20" y2="257.20" stroke="#1a1a1a" stroke-width="1.0" />
<line x1="437.15" y1="260.20" x2="437.15" y2="258.70" stroke="#1a1a1a" stroke-width="1.0" />
<line x1="462.10" y1="260.20" x2="462.10" y2="257.20" stroke="#1a1a1a" stroke-width="1.0" />
<line x1="487.05" y1="260.20" x2="487.05" y2="258.70" stroke="#1a1a1a" stroke-width="1.0" />
<text x="312.40" y="273.90" font-size="13" text-anchor="middle" fill="#1a1a1a" stroke="#1a1a1a" stroke-width="0.2" >-2</text>
<text x="362.30" y="273.90" font-size="13" text-anchor="middle" fill="#1a1a1a" stroke="#1a1a1a" stroke-width="0.2" >-1</text>
<text x="412.20" y="273.90" font-size="13" text-anchor="middle" fill="#1a1a1a" stroke="#1a1a1a" stroke-width="0.2" >0</text>
<text x="462.10" y="273.90" font-size="13" text-anchor="middle" fill="#1a1a1a" stroke="#1a1a1a" stroke-width="0.2" >1</text>
<text x="512.00" y="273.90" font-size="13" text-anchor="middle" fill="#1a1a1a" stroke="#1a1a1a" stroke-width="0.2" >2</text>
<text x="412.20" y="287.20" font-size="12.9" text-anchor="middle" fill="#1a1a1a" stroke="#1a1a1a" stroke-width="0.2" >Energy (eV)</text>
<text transform="translate(296.20,210.50) rotate(-90)" font-size="12.7" text-anchor="middle" fill="#1a1a1a" stroke="#1a1a1a" stroke-width="0.2">PDOS (arb.nuits)</text>
<text x="7.00" y="300.30" font-size="13" text-anchor="start" fill="#1a1a1a" stroke="#1a1a1a" stroke-width="0.2" >(e)</text>
<path d="M40.40,351.80 L40.40,351.80 L40.65,351.59 L40.90,351.39 L41.15,351.18 L41.40,350.98 L41.65,350.79 L41.90,350.60 L42.15,350.41 L42.40,350.24 L42.65,350.08 L42.90,349.92 L43.15,349.78 L43.40,349.65 L43.65,349.53 L43.90,349.42 L44.15,349.33 L44.40,349.25 L44.65,349.19 L44.90,349.15 L45.15,349.12 L45.40,349.10 L45.65,349.10 L45.90,349.13 L46.15,349.17 L46.40,349.23 L46.65,349.31 L46.90,349.42 L47.15,349.54 L47.40,349.67 L47.65,349.83 L47.90,349.99 L48.15,350.18 L48.40,350.37 L48.65,350.57 L48.90,350.79 L49.15,351.01 L49.40,351.24 L49.65,351.47 L49.90,351.71 L50.15,351.80 L50.40,351.80 L50.65,351.80 L50.90,351.80 L51.15,351.80 L51.40,351.80 L51.65,351.80 L51.90,351.80 L52.15,351.80 L52.40,351.80 L52.65,351.80 L52.90,351.80 L53.15,351.80 L53.40,351.80 L53.65,351.80 L53.90,351.80 L54.15,351.80 L54.40,351.80 L54.65,351.80 L54.90,351.80 L55.15,351.80 L55.40,351.80 L55.65,351.80 L55.90,351.80 L56.15,351.80 L56.40,351.80 L56.65,351.80 L56.90,351.80 L57.15,351.80 L57.40,351.80 L57.65,351.80 L57.90,351.80 L58.15,351.80 L58.40,351.80 L58.65,351.80 L58.90,351.80 L59.15,351.80 L59.40,351.80 L59.65,351.80 L59.90,351.80 L60.15,351.80 L60.40,351.80 L60.65,351.80 L60.90,351.80 L61.15,351.80 L61.40,351.80 L61.65,351.80 L61.90,351.80 L62.15,351.80 L62.40,351.80 L62.65,351.80 L62.90,351.80 L63.15,351.80 L63.40,351.80 L63.65,351.80 L63.90,351.80 L64.15,351.80 L64.40,351.80 L64.65,351.80 L64.90,351.80 L65.15,351.80 L65.40,351.80 L65.65,351.80 L65.90,351.80 L66.15,351.80 L66.40,351.80 L66.65,351.80 L66.90,351.80 L67.15,351.80 L67.40,351.80 L67.65,351.80 L67.90,351.80 L68.15,351.80 L68.40,351.80 L68.65,351.80 L68.90,351.80 L69.15,351.80 L69.40,351.80 L69.65,351.80 L69.90,351.80 L70.15,351.80 L70.40,351.80 L70.65,351.80 L70.90,351.80 L71.15,351.65 L71.40,351.40 L71.65,351.15 L71.90,350.90 L72.15,350.65 L72.40,350.41 L72.65,350.17 L72.90,349.94 L73.15,349.71 L73.40,349.49 L73.65,349.28 L73.90,349.07 L74.15,348.88 L74.40,348.69 L74.65,348.51 L74.90,348.35 L75.15,348.19 L75.40,348.04 L75.65,347.91 L75.90,347.79 L76.15,347.68 L76.40,347.59 L76.65,347.50 L76.90,347.44 L77.15,347.38 L77.40,347.34 L77.65,347.31 L77.90,347.30 L78.15,347.30 L78.40,347.33 L78.65,347.37 L78.90,347.44 L79.15,347.53 L79.40,347.64 L79.65,347.77 L79.90,347.92 L80.15,348.09 L80.40,348.28 L80.65,348.49 L80.90,348.71 L81.15,348.95 L81.40,349.20 L81.65,349.46 L81.90,349.73 L82.15,350.02 L82.40,350.31 L82.65,350.62 L82.90,350.92 L83.15,351.23 L83.40,351.55 L83.65,351.80 L83.90,351.80 L84.15,351.80 L84.40,351.80 L84.65,351.80 L84.90,351.80 L85.15,351.80 L85.40,351.80 L85.65,351.80 L85.90,351.80 L86.15,351.80 L86.40,351.80 L86.65,351.80 L86.90,351.80 L87.15,351.80 L87.40,351.80 L87.65,351.80 L87.90,351.80 L88.15,351.80 L88.40,351.80 L88.65,351.80 L88.90,351.80 L89.15,351.80 L89.40,351.80 L89.65,351.80 L89.90,351.80 L90.15,351.80 L90.40,351.80 L90.65,351.62 L90.90,351.32 L91.15,351.02 L91.40,350.74 L91.65,350.47 L91.90,350.21 L92.15,349.98 L92.40,349.77 L92.65,349.58 L92.90,349.42 L93.15,349.29 L93.40,349.20 L93.65,349.13 L93.90,349.10 L94.15,349.11 L94.40,349.14 L94.65,349.21 L94.90,349.32 L95.15,349.45 L95.40,349.62 L95.65,349.81 L95.90,350.02 L96.15,350.26 L96.40,350.52 L96.65,350.79 L96.90,351.08 L97.15,351.38 L97.40,351.68 L97.65,351.80 L97.90,351.80 L98.15,351.80 L98.40,351.80 L98.65,351.80 L98.90,351.80 L99.15,351.80 L99.40,351.80 L99.65,351.80 L99.90,351.80 L100.15,351.80 L100.40,351.80 L100.65,351.80 L100.90,351.80 L101.15,351.80 L101.40,351.80 L101.65,351.80 L101.90,351.80 L102.15,351.80 L102.40,351.80 L102.65,351.80 L102.90,351.80 L103.15,351.80 L103.40,351.80 L103.65,351.80 L103.90,351.80 L104.15,351.80 L104.40,351.80 L104.65,351.80 L104.90,351.80 L105.15,351.80 L105.40,351.80 L105.65,351.80 L105.90,351.80 L106.15,351.80 L106.40,351.80 L106.65,350.31 L106.90,348.82 L107.15,347.35 L107.40,345.90 L107.65,344.47 L107.90,343.07 L108.15,341.72 L108.40,340.40 L108.65,339.13 L108.90,337.92 L109.15,336.77 L109.40,335.68 L109.65,334.66 L109.90,333.71 L110.15,332.84 L110.40,332.05 L110.65,331.35 L110.90,330.74 L111.15,330.21 L111.40,329.78 L111.65,329.44 L111.90,329.20 L112.15,329.05 L112.40,329.00 L112.65,329.05 L112.90,329.21 L113.15,329.47 L113.40,329.83 L113.65,330.29 L113.90,330.86 L114.15,331.51 L114.40,332.26 L114.65,333.10 L114.90,334.03 L115.15,335.04 L115.40,336.12 L115.65,337.28 L115.90,338.50 L116.15,339.78 L116.40,341.12 L116.65,342.51 L116.90,343.94 L117.15,345.40 L117.40,346.90 L117.65,348.42 L117.90,349.95 L118.15,351.49 L118.40,351.80 L118.65,351.80 L118.90,351.80 L119.15,351.80 L119.40,351.80 L119.65,351.80 L119.90,351.80 L120.15,351.80 L120.40,351.80 L120.65,351.80 L120.90,351.80 L121.15,351.80 L121.40,351.80 L121.65,351.80 L121.90,351.80 L122.15,351.80 L122.40,351.80 L122.65,351.80 L122.90,351.80 L123.15,351.80 L123.40,351.80 L123.65,351.80 L123.90,351.80 L124.15,351.80 L124.40,351.80 L124.65,351.80 L124.90,351.80 L125.15,351.80 L125.40,351.80 L125.65,351.80 L125.90,351.80 L126.15,351.80 L126.40,351.80 L126.65,350.13 L126.90,348.48 L127.15,346.85 L127.40,345.27 L127.65,343.73 L127.90,342.26 L128.15,340.86 L128.40,339.55 L128.65,338.34 L128.90,337.24 L129.15,336.25 L129.40,335.39 L129.65,334.65 L129.90,334.06 L130.15,333.60 L130.40,333.29 L130.65,333.13 L130.90,333.11 L131.15,333.23 L131.40,333.47 L131.65,333.85 L131.90,334.35 L132.15,334.97 L132.40,335.71 L132.65,336.56 L132.90,337.52 L133.15,338.58 L133.40,339.73 L133.65,340.96 L133.90,342.27 L134.15,343.65 L134.40,345.08 L134.65,346.56 L134.90,348.08 L135.15,349.62 L135.40,351.18 L135.65,351.80 L135.90,351.80 L136.15,351.80 L136.40,351.80 L136.65,351.80 L136.90,351.80 L137.15,351.80 L137.40,351.80 L137.65,351.80 L137.90,351.80 L138.15,351.80 L138.40,351.80 L138.65,351.80 L138.90,351.80 L139.15,351.80 L139.40,351.80 L139.65,351.80 L139.90,351.80 L140.15,351.80 L140.40,351.80 L140.65,351.80 L140.90,351.80 L141.15,351.80 L141.40,351.80 L141.65,351.80 L141.90,351.80 L142.15,351.80 L142.40,351.80 L142.65,351.80 L142.90,351.80 L143.15,351.80 L143.40,351.80 L143.65,351.80 L143.90,351.80 L144.15,351.80 L144.40,351.80 L144.65,351.80 L144.90,351.80 L145.15,351.80 L145.40,351.80 L145.65,351.80 L145.90,351.80 L146.15,351.80 L146.40,351.80 L146.65,351.80 L146.90,351.80 L147.15,349.85 L147.40,346.64 L147.65,343.52 L147.90,340.54 L148.15,337.75 L148.40,335.21 L148.65,332.94 L148.90,331.00 L149.15,329.42 L149.40,328.21 L149.65,327.42 L149.90,327.03 L150.15,327.08 L150.40,327.54 L150.65,328.42 L150.90,329.70 L151.15,331.36 L151.40,333.37 L151.65,335.69 L151.90,338.29 L152.15,341.12 L152.40,344.14 L152.65,347.28 L152.90,350.50 L153.15,351.80 L153.40,351.80 L153.65,351.80 L153.90,351.80 L154.15,351.80 L154.40,351.80 L154.65,351.80 L154.90,351.80 L155.15,351.80 L155.40,351.80 L155.65,351.80 L155.90,351.80 L156.15,351.80 L156.40,351.80 L156.65,351.80 L156.90,351.80 L157.15,351.80 L157.40,351.80 L157.65,351.80 L157.90,351.80 L158.15,351.80 L158.40,351.80 L158.65,351.80 L158.90,351.80 L159.15,351.80 L159.40,351.80 L159.65,351.80 L159.90,351.80 L160.15,351.80 L160.40,351.80 L160.65,351.80 L160.90,351.80 L161.15,351.80 L161.40,351.80 L161.65,351.80 L161.90,351.80 L162.15,351.80 L162.40,351.80 L162.65,351.80 L162.90,351.80 L163.15,351.80 L163.40,351.80 L163.65,350.97 L163.90,349.60 L164.15,348.25 L164.40,346.93 L164.65,345.66 L164.90,344.44 L165.15,343.29 L165.40,342.22 L165.65,341.24 L165.90,340.35 L166.15,339.57 L166.40,338.90 L166.65,338.34 L166.90,337.91 L167.15,337.61 L167.40,337.44 L167.65,337.40 L167.90,337.43 L168.15,337.51 L168.40,337.63 L168.65,337.79 L168.90,337.99 L169.15,338.24 L169.40,338.52 L169.65,338.84 L169.90,339.19 L170.15,339.58 L170.40,339.99 L170.65,340.44 L170.90,340.90 L171.15,341.39 L171.40,341.89 L171.65,342.41 L171.90,342.94 L172.15,343.48 L172.40,344.02 L172.65,344.56 L172.90,345.10 L173.15,345.64 L173.40,346.16 L173.65,346.67 L173.90,347.17 L174.15,347.65 L174.40,348.11 L174.65,348.55 L174.90,348.96 L175.15,349.35 L175.40,349.71 L175.65,350.04 L175.90,350.34 L176.15,350.61 L176.40,350.86 L176.65,351.07 L176.90,351.25 L177.15,351.40 L177.40,351.52 L177.65,351.62 L177.90,351.69 L178.15,351.75 L178.40,351.78 L178.65,351.79 L178.90,351.80 L179.15,351.80 L179.40,351.80 L179.65,351.80 L179.90,351.80 L180.15,351.80 L180.40,351.80 L180.65,351.80 L180.90,351.80 L181.15,351.80 L181.40,351.80 L181.65,351.80 L181.90,351.80 L182.15,351.80 L182.40,351.80 L182.65,351.80 L182.90,351.80 L183.15,351.80 L183.40,351.80 L183.65,351.80 L183.90,351.80 L184.15,351.80 L184.40,351.80 L184.65,351.80 L184.90,351.80 L185.15,351.80 L185.40,351.80 L185.65,351.80 L185.90,351.80 L186.15,351.80 L186.40,351.80 L186.65,351.80 L186.90,351.80 L187.15,351.80 L187.40,351.80 L187.65,351.80 L187.90,351.80 L188.15,351.80 L188.40,351.80 L188.65,351.80 L188.90,351.80 L189.15,351.80 L189.40,351.80 L189.65,351.80 L189.90,351.80 L190.15,351.80 L190.40,351.80 L190.65,351.80 L190.90,351.80 L191.15,351.80 L191.40,351.80 L191.65,351.80 L191.90,351.80 L192.15,351.80 L192.40,351.80 L192.65,351.80 L192.90,351.80 L193.15,351.80 L193.40,351.80 L193.65,351.80 L193.90,351.80 L194.15,351.80 L194.40,351.80 L194.65,351.80 L194.90,351.80 L195.15,351.80 L195.40,351.80 L195.65,351.80 L195.90,351.80 L196.15,351.80 L196.40,351.80 L196.65,351.80 L196.90,351.80 L197.15,351.80 L197.40,351.80 L197.65,351.80 L197.90,351.80 L198.15,351.80 L198.40,351.80 L198.65,351.80 L198.90,351.80 L199.15,351.80 L199.40,351.80 L199.65,351.80 L199.90,351.80 L200.15,351.80 L200.40,351.80 L200.65,351.80 L200.90,351.80 L201.15,351.80 L201.40,351.80 L201.65,351.80 L201.90,351.80 L202.15,351.80 L202.40,351.80 L202.65,351.80 L202.90,351.80 L203.15,351.80 L203.40,351.80 L203.65,351.80 L203.90,351.80 L204.15,351.80 L204.40,351.80 L204.65,351.80 L204.90,351.80 L205.15,351.80 L205.40,351.80 L205.65,351.80 L205.90,351.80 L206.15,351.80 L206.40,351.80 L206.65,351.80 L206.90,351.80 L207.15,351.80 L207.40,351.80 L207.65,351.80 L207.90,351.80 L208.15,351.80 L208.40,351.80 L208.65,351.80 L208.90,351.80 L209.15,351.80 L209.40,351.80 L209.65,351.80 L209.90,351.80 L210.15,351.80 L210.40,351.80 L210.65,351.80 L210.90,351.80 L211.15,351.80 L211.40,351.80 L211.65,351.80 L211.90,351.80 L212.15,351.80 L212.40,351.80 L212.65,351.80 L212.90,351.80 L213.15,351.80 L213.40,351.80 L213.65,351.80 L213.90,351.80 L214.15,351.80 L214.40,351.80 L214.65,351.80 L214.90,351.80 L215.15,351.80 L215.40,351.80 L215.65,351.80 L215.90,351.80 L216.15,351.80 L216.40,351.80 L216.65,351.80 L216.90,351.80 L217.15,351.80 L217.40,351.80 L217.65,351.80 L217.90,351.80 L218.15,351.80 L218.40,351.80 L218.65,351.80 L218.90,351.80 L219.15,351.80 L219.40,351.80 L219.65,351.80 L219.90,351.80 L220.15,351.80 L220.40,351.80 L220.65,351.80 L220.90,351.80 L221.15,351.80 L221.40,351.80 L221.65,351.80 L221.90,351.80 L222.15,351.80 L222.40,351.80 L222.65,351.80 L222.90,351.80 L223.15,351.80 L223.40,351.80 L223.65,351.80 L223.90,351.80 L224.15,351.80 L224.40,351.80 L224.65,351.80 L224.90,351.80 L225.15,351.80 L225.40,351.80 L225.65,351.80 L225.90,351.80 L226.15,351.80 L226.40,351.80 L226.65,351.80 L226.90,351.80 L227.15,351.80 L227.40,351.80 L227.65,351.80 L227.90,351.80 L228.15,351.80 L228.40,351.80 L228.65,351.80 L228.90,351.80 L229.15,351.80 L229.40,351.80 L229.65,351.80 L229.90,351.80 L230.15,351.80 L230.40,351.80 L230.65,351.80 L230.90,351.80 L231.15,351.80 L231.40,351.80 L231.65,351.80 L231.90,351.80 L232.15,351.80 L232.40,351.80 L232.65,351.80 L232.90,351.80 L233.15,351.80 L233.40,351.80 L233.65,351.80 L233.90,351.80 L234.15,351.80 L234.40,351.80 L234.65,351.80 L234.90,351.80 L235.15,351.80 L235.40,351.80 L235.40,351.80 Z" stroke="none" stroke-width="0" fill="#ff0000" />
<path d="M40.40,351.80 L40.40,351.80 L40.65,351.80 L40.90,351.80 L41.15,351.80 L41.40,351.80 L41.65,351.80 L41.90,351.80 L42.15,351.80 L42.40,351.80 L42.65,351.80 L42.90,351.80 L43.15,351.80 L43.40,351.80 L43.65,351.80 L43.90,351.80 L44.15,351.80 L44.40,351.80 L44.65,351.80 L44.90,351.80 L45.15,351.80 L45.40,351.80 L45.65,351.80 L45.90,351.80 L46.15,351.80 L46.40,351.80 L46.65,351.80 L46.90,351.80 L47.15,351.80 L47.40,351.80 L47.65,351.80 L47.90,351.80 L48.15,351.80 L48.40,351.80 L48.65,351.80 L48.90,351.80 L49.15,351.80 L49.40,351.80 L49.65,351.80 L49.90,351.80 L50.15,351.93 L50.40,352.14 L50.65,352.35 L50.90,352.56 L51.15,352.77 L51.40,352.97 L51.65,353.16 L51.90,353.35 L52.15,353.53 L52.40,353.70 L52.65,353.86 L52.90,354.01 L53.15,354.15 L53.40,354.28 L53.65,354.39 L53.90,354.49 L54.15,354.58 L54.40,354.65 L54.65,354.71 L54.90,354.76 L55.15,354.79 L55.40,354.80 L55.65,354.80 L55.90,354.78 L56.15,354.75 L56.40,354.70 L56.65,354.64 L56.90,354.56 L57.15,354.47 L57.40,354.37 L57.65,354.25 L57.90,354.12 L58.15,353.98 L58.40,353.83 L58.65,353.67 L58.90,353.49 L59.15,353.31 L59.40,353.12 L59.65,352.93 L59.90,352.73 L60.15,352.52 L60.40,352.31 L60.65,352.10 L60.90,351.89 L61.15,351.80 L61.40,351.80 L61.65,351.80 L61.90,351.80 L62.15,351.80 L62.40,351.80 L62.65,351.80 L62.90,351.80 L63.15,351.80 L63.40,351.80 L63.65,351.80 L63.90,351.80 L64.15,351.80 L64.40,351.80 L64.65,351.80 L64.90,351.80 L65.15,351.80 L65.40,351.80 L65.65,351.80 L65.90,351.80 L66.15,351.80 L66.40,351.80 L66.65,351.80 L66.90,351.80 L67.15,351.80 L67.40,351.80 L67.65,351.80 L67.90,351.80 L68.15,351.80 L68.40,351.80 L68.65,351.80 L68.90,351.80 L69.15,351.80 L69.40,351.80 L69.65,351.80 L69.90,351.80 L70.15,351.80 L70.40,351.80 L70.65,351.80 L70.90,351.80 L71.15,351.80 L71.40,351.80 L71.65,351.80 L71.90,351.80 L72.15,351.80 L72.40,351.80 L72.65,351.80 L72.90,351.80 L73.15,351.80 L73.40,351.80 L73.65,351.80 L73.90,351.80 L74.15,351.80 L74.40,351.80 L74.65,351.80 L74.90,351.80 L75.15,351.80 L75.40,351.80 L75.65,351.80 L75.90,351.80 L76.15,351.80 L76.40,351.80 L76.65,351.80 L76.90,351.80 L77.15,351.80 L77.40,351.80 L77.65,351.80 L77.90,351.80 L78.15,351.80 L78.40,351.80 L78.65,351.80 L78.90,351.80 L79.15,351.80 L79.40,351.80 L79.65,351.80 L79.90,351.80 L80.15,351.80 L80.40,351.80 L80.65,351.80 L80.90,351.80 L81.15,351.80 L81.40,351.80 L81.65,351.80 L81.90,351.80 L82.15,351.80 L82.40,351.80 L82.65,351.80 L82.90,351.80 L83.15,351.80 L83.40,351.80 L83.65,351.80 L83.90,351.80 L84.15,351.94 L84.40,352.17 L84.65,352.40 L84.90,352.62 L85.15,352.82 L85.40,353.00 L85.65,353.17 L85.90,353.31 L86.15,353.42 L86.40,353.51 L86.65,353.57 L86.90,353.60 L87.15,353.59 L87.40,353.56 L87.65,353.50 L87.90,353.40 L88.15,353.28 L88.40,353.14 L88.65,352.97 L88.90,352.78 L89.15,352.57 L89.40,352.36 L89.65,352.13 L89.90,351.89 L90.15,351.80 L90.40,351.80 L90.65,351.80 L90.90,351.80 L91.15,351.80 L91.40,351.80 L91.65,351.80 L91.90,351.80 L92.15,351.80 L92.40,351.80 L92.65,351.80 L92.90,351.80 L93.15,351.80 L93.40,351.80 L93.65,351.80 L93.90,351.80 L94.15,351.80 L94.40,351.80 L94.65,351.80 L94.90,351.80 L95.15,351.80 L95.40,351.80 L95.65,351.80 L95.90,351.80 L96.15,351.80 L96.40,351.80 L96.65,351.80 L96.90,351.80 L97.15,351.80 L97.40,351.80 L97.65,351.80 L97.90,351.80 L98.15,352.40 L98.40,353.41 L98.65,354.40 L98.90,355.37 L99.15,356.31 L99.40,357.22 L99.65,358.08 L99.90,358.89 L100.15,359.65 L100.40,360.34 L100.65,360.97 L100.90,361.52 L101.15,361.99 L101.40,362.39 L101.65,362.70 L101.90,362.92 L102.15,363.06 L102.40,363.10 L102.65,363.05 L102.90,362.88 L103.15,362.61 L103.40,362.24 L103.65,361.77 L103.90,361.20 L104.15,360.54 L104.40,359.79 L104.65,358.97 L104.90,358.08 L105.15,357.13 L105.40,356.12 L105.65,355.08 L105.90,354.00 L106.15,352.91 L106.40,351.80 L106.65,351.80 L106.90,351.80 L107.15,351.80 L107.40,351.80 L107.65,351.80 L107.90,351.80 L108.15,351.80 L108.40,351.80 L108.65,351.80 L108.90,351.80 L109.15,351.80 L109.40,351.80 L109.65,351.80 L109.90,351.80 L110.15,351.80 L110.40,351.80 L110.65,351.80 L110.90,351.80 L111.15,351.80 L111.40,351.80 L111.65,351.80 L111.90,351.80 L112.15,351.80 L112.40,351.80 L112.65,351.80 L112.90,351.80 L113.15,351.80 L113.40,351.80 L113.65,351.80 L113.90,351.80 L114.15,351.80 L114.40,351.80 L114.65,351.80 L114.90,351.80 L115.15,351.80 L115.40,351.80 L115.65,351.80 L115.90,351.80 L116.15,351.80 L116.40,351.80 L116.65,351.80 L116.90,351.80 L117.15,351.80 L117.40,351.80 L117.65,351.80 L117.90,351.80 L118.15,351.80 L118.40,353.02 L118.65,354.52 L118.90,356.01 L119.15,357.45 L119.40,358.84 L119.65,360.16 L119.90,361.40 L120.15,362.54 L120.40,363.59 L120.65,364.52 L120.90,365.32 L121.15,366.00 L121.40,366.54 L121.65,366.94 L121.90,367.19 L122.15,367.30 L122.40,367.26 L122.65,367.08 L122.90,366.77 L123.15,366.33 L123.40,365.77 L123.65,365.08 L123.90,364.27 L124.15,363.36 L124.40,362.34 L124.65,361.24 L124.90,360.05 L125.15,358.79 L125.40,357.46 L125.65,356.09 L125.90,354.68 L126.15,353.25 L126.40,351.80 L126.65,351.80 L126.90,351.80 L127.15,351.80 L127.40,351.80 L127.65,351.80 L127.90,351.80 L128.15,351.80 L128.40,351.80 L128.65,351.80 L128.90,351.80 L129.15,351.80 L129.40,351.80 L129.65,351.80 L129.90,351.80 L130.15,351.80 L130.40,351.80 L130.65,351.80 L130.90,351.80 L131.15,351.80 L131.40,351.80 L131.65,351.80 L131.90,351.80 L132.15,351.80 L132.40,351.80 L132.65,351.80 L132.90,351.80 L133.15,351.80 L133.40,351.80 L133.65,351.80 L133.90,351.80 L134.15,351.80 L134.40,351.80 L134.65,351.80 L134.90,351.80 L135.15,351.80 L135.40,351.80 L135.65,353.31 L135.90,355.83 L136.15,358.33 L136.40,360.80 L136.65,363.23 L136.90,365.61 L137.15,367.92 L137.40,370.16 L137.65,372.31 L137.90,374.37 L138.15,376.33 L138.40,378.18 L138.65,379.90 L138.90,381.49 L139.15,382.95 L139.40,384.27 L139.65,385.44 L139.90,386.45 L140.15,387.31 L140.40,388.00 L140.65,388.52 L140.90,388.88 L141.15,389.07 L141.40,389.09 L141.65,388.93 L141.90,388.59 L142.15,388.08 L142.40,387.40 L142.65,386.55 L142.90,385.53 L143.15,384.36 L143.40,383.03 L143.65,381.55 L143.90,379.93 L144.15,378.18 L144.40,376.30 L144.65,374.30 L144.90,372.20 L145.15,370.00 L145.40,367.72 L145.65,365.36 L145.90,362.93 L146.15,360.46 L146.40,357.94 L146.65,355.39 L146.90,352.83 L147.15,351.80 L147.40,351.80 L147.65,351.80 L147.90,351.80 L148.15,351.80 L148.40,351.80 L148.65,351.80 L148.90,351.80 L149.15,351.80 L149.40,351.80 L149.65,351.80 L149.90,351.80 L150.15,351.80 L150.40,351.80 L150.65,351.80 L150.90,351.80 L151.15,351.80 L151.40,351.80 L151.65,351.80 L151.90,351.80 L152.15,351.80 L152.40,351.80 L152.65,351.80 L152.90,351.80 L153.15,353.08 L153.40,355.20 L153.65,357.30 L153.90,359.37 L154.15,361.39 L154.40,363.34 L154.65,365.22 L154.90,367.02 L155.15,368.72 L155.40,370.31 L155.65,371.78 L155.90,373.12 L156.15,374.32 L156.40,375.38 L156.65,376.29 L156.90,377.04 L157.15,377.63 L157.40,378.06 L157.65,378.31 L157.90,378.40 L158.15,378.33 L158.40,378.14 L158.65,377.81 L158.90,377.36 L159.15,376.78 L159.40,376.08 L159.65,375.26 L159.90,374.32 L160.15,373.28 L160.40,372.12 L160.65,370.87 L160.90,369.52 L161.15,368.09 L161.40,366.58 L161.65,364.99 L161.90,363.34 L162.15,361.63 L162.40,359.88 L162.65,358.08 L162.90,356.26 L163.15,354.41 L163.40,352.55 L163.65,351.80 L163.90,351.80 L164.15,351.80 L164.40,351.80 L164.65,351.80 L164.90,351.80 L165.15,351.80 L165.40,351.80 L165.65,351.80 L165.90,351.80 L166.15,351.80 L166.40,351.80 L166.65,351.80 L166.90,351.80 L167.15,351.80 L167.40,351.80 L167.65,351.80 L167.90,351.80 L168.15,351.80 L168.40,351.80 L168.65,351.80 L168.90,351.80 L169.15,351.80 L169.40,351.80 L169.65,351.80 L169.90,351.80 L170.15,351.80 L170.40,351.80 L170.65,351.80 L170.90,351.80 L171.15,351.80 L171.40,351.80 L171.65,351.80 L171.90,351.80 L172.15,351.80 L172.40,351.80 L172.65,351.80 L172.90,351.80 L173.15,351.80 L173.40,351.80 L173.65,351.80 L173.90,351.80 L174.15,351.80 L174.40,351.80 L174.65,351.80 L174.90,351.80 L175.15,351.80 L175.40,351.80 L175.65,351.80 L175.90,351.80 L176.15,351.80 L176.40,351.80 L176.65,351.80 L176.90,351.80 L177.15,351.80 L177.40,351.80 L177.65,351.80 L177.90,351.80 L178.15,351.80 L178.40,351.80 L178.65,351.80 L178.90,351.80 L179.15,351.80 L179.40,351.80 L179.65,351.80 L179.90,351.80 L180.15,351.84 L180.40,351.90 L180.65,351.96 L180.90,352.02 L181.15,352.09 L181.40,352.15 L181.65,352.21 L181.90,352.27 L182.15,352.33 L182.40,352.39 L182.65,352.44 L182.90,352.50 L183.15,352.55 L183.40,352.61 L183.65,352.66 L183.90,352.71 L184.15,352.76 L184.40,352.81 L184.65,352.85 L184.90,352.90 L185.15,352.94 L185.40,352.98 L185.65,353.01 L185.90,353.05 L186.15,353.08 L186.40,353.12 L186.65,353.14 L186.90,353.17 L187.15,353.20 L187.40,353.22 L187.65,353.24 L187.90,353.25 L188.15,353.27 L188.40,353.28 L188.65,353.29 L188.90,353.29 L189.15,353.30 L189.40,353.30 L189.65,353.30 L189.90,353.30 L190.15,353.29 L190.40,353.28 L190.65,353.27 L190.90,353.26 L191.15,353.25 L191.40,353.23 L191.65,353.22 L191.90,353.20 L192.15,353.18 L192.40,353.15 L192.65,353.13 L192.90,353.10 L193.15,353.07 L193.40,353.04 L193.65,353.01 L193.90,352.98 L194.15,352.94 L194.40,352.91 L194.65,352.87 L194.90,352.83 L195.15,352.79 L195.40,352.75 L195.65,352.70 L195.90,352.66 L196.15,352.61 L196.40,352.56 L196.65,352.51 L196.90,352.47 L197.15,352.41 L197.40,352.36 L197.65,352.31 L197.90,352.26 L198.15,352.21 L198.40,352.15 L198.65,352.10 L198.90,352.04 L199.15,351.99 L199.40,351.93 L199.65,351.88 L199.90,351.82 L200.15,351.80 L200.40,351.80 L200.65,351.80 L200.90,351.80 L201.15,351.80 L201.40,351.80 L201.65,351.80 L201.90,351.80 L202.15,351.80 L202.40,351.80 L202.65,351.80 L202.90,351.80 L203.15,351.80 L203.40,351.80 L203.65,351.80 L203.90,351.80 L204.15,351.80 L204.40,351.80 L204.65,351.80 L204.90,351.80 L205.15,351.80 L205.40,351.80 L205.65,351.80 L205.90,351.80 L206.15,351.80 L206.40,351.80 L206.65,351.80 L206.90,351.80 L207.15,351.80 L207.40,351.80 L207.65,351.80 L207.90,351.80 L208.15,351.80 L208.40,351.80 L208.65,351.80 L208.90,351.80 L209.15,351.80 L209.40,351.80 L209.65,351.80 L209.90,351.80 L210.15,351.80 L210.40,351.80 L210.65,351.80 L210.90,351.80 L211.15,351.80 L211.40,351.80 L211.65,351.80 L211.90,351.80 L212.15,351.80 L212.40,351.80 L212.65,351.80 L212.90,351.80 L213.15,351.80 L213.40,351.80 L213.65,351.80 L213.90,351.80 L214.15,351.80 L214.40,351.80 L214.65,351.80 L214.90,351.80 L215.15,351.80 L215.40,351.80 L215.65,351.80 L215.90,351.80 L216.15,351.80 L216.40,351.80 L216.65,351.80 L216.90,351.80 L217.15,351.80 L217.40,351.80 L217.65,351.80 L217.90,351.80 L218.15,351.80 L218.40,351.80 L218.65,351.80 L218.90,351.80 L219.15,351.80 L219.40,351.80 L219.65,351.80 L219.90,351.80 L220.15,351.80 L220.40,351.80 L220.65,351.80 L220.90,351.80 L221.15,351.80 L221.40,351.80 L221.65,351.80 L221.90,351.80 L222.15,351.80 L222.40,351.80 L222.65,351.80 L222.90,351.80 L223.15,351.80 L223.40,351.80 L223.65,351.80 L223.90,351.80 L224.15,351.80 L224.40,351.80 L224.65,351.80 L224.90,351.80 L225.15,351.80 L225.40,351.80 L225.65,351.80 L225.90,351.80 L226.15,351.80 L226.40,351.80 L226.65,351.80 L226.90,351.80 L227.15,351.80 L227.40,351.80 L227.65,351.80 L227.90,351.80 L228.15,351.80 L228.40,351.80 L228.65,351.80 L228.90,351.80 L229.15,351.80 L229.40,351.80 L229.65,351.80 L229.90,351.80 L230.15,351.80 L230.40,351.80 L230.65,351.80 L230.90,351.80 L231.15,351.80 L231.40,351.80 L231.65,351.80 L231.90,351.80 L232.15,351.80 L232.40,351.80 L232.65,351.80 L232.90,351.80 L233.15,351.80 L233.40,351.80 L233.65,351.80 L233.90,351.80 L234.15,351.80 L234.40,351.80 L234.65,351.80 L234.90,351.80 L235.15,351.80 L235.40,351.80 L235.40,351.80 Z" stroke="none" stroke-width="0" fill="#0000ff" />
<line x1="40.40" y1="351.80" x2="235.40" y2="351.80" stroke="#1a1a1a" stroke-width="1.2" />
<line x1="113.50" y1="301.30" x2="113.50" y2="401.80" stroke="#333" stroke-width="0.9" stroke-dasharray="1.6,1.6"/>
<line x1="148.30" y1="301.30" x2="148.30" y2="401.80" stroke="#333" stroke-width="0.9" stroke-dasharray="1.6,1.6"/>
<line x1="168.20" y1="301.30" x2="168.20" y2="401.80" stroke="#333" stroke-width="0.9" stroke-dasharray="1.6,1.6"/>
<line x1="188.30" y1="301.30" x2="188.30" y2="401.80" stroke="#333" stroke-width="0.9" stroke-dasharray="1.6,1.6"/>
<text x="113.20" y="318.00" font-size="11.8" text-anchor="middle" fill="#1a1a1a" stroke="#1a1a1a" stroke-width="0.2" >Au</text>
<text x="149.00" y="318.00" font-size="11.8" text-anchor="middle" fill="#1a1a1a" stroke="#1a1a1a" stroke-width="0.2" >S</text>
<text x="167.60" y="318.00" font-size="11.8" text-anchor="middle" fill="#1a1a1a" stroke="#1a1a1a" stroke-width="0.2" >Mo</text>
<text x="188.70" y="318.00" font-size="11.8" text-anchor="middle" fill="#1a1a1a" stroke="#1a1a1a" stroke-width="0.2" >S</text>
<rect x="40.40" y="301.30" width="195.00" height="100.50" fill="none" stroke="#1a1a1a" stroke-width="1.6" />
<line x1="40.40" y1="301.80" x2="42.90" y2="301.80" stroke="#1a1a1a" stroke-width="1.0" />
<text x="37.40" y="305.50" font-size="12.7" text-anchor="end" fill="#1a1a1a" stroke="#1a1a1a" stroke-width="0.2" >6</text>
<line x1="40.40" y1="314.30" x2="41.90" y2="314.30" stroke="#1a1a1a" stroke-width="1.0" />
<line x1="40.40" y1="326.80" x2="42.90" y2="326.80" stroke="#1a1a1a" stroke-width="1.0" />
<text x="37.40" y="330.50" font-size="12.7" text-anchor="end" fill="#1a1a1a" stroke="#1a1a1a" stroke-width="0.2" >3</text>
<line x1="40.40" y1="339.30" x2="41.90" y2="339.30" stroke="#1a1a1a" stroke-width="1.0" />
<line x1="40.40" y1="351.80" x2="42.90" y2="351.80" stroke="#1a1a1a" stroke-width="1.0" />
<text x="37.40" y="355.50" font-size="12.7" text-anchor="end" fill="#1a1a1a" stroke="#1a1a1a" stroke-width="0.2" >0</text>
<line x1="40.40" y1="364.30" x2="41.90" y2="364.30" stroke="#1a1a1a" stroke-width="1.0" />
<line x1="40.40" y1="376.80" x2="42.90" y2="376.80" stroke="#1a1a1a" stroke-width="1.0" />
<text x="37.40" y="380.50" font-size="12.7" text-anchor="end" fill="#1a1a1a" stroke="#1a1a1a" stroke-width="0.2" >-3</text>
<line x1="40.40" y1="389.30" x2="41.90" y2="389.30" stroke="#1a1a1a" stroke-width="1.0" />
<line x1="40.40" y1="401.80" x2="42.90" y2="401.80" stroke="#1a1a1a" stroke-width="1.0" />
<text x="37.40" y="405.50" font-size="12.7" text-anchor="end" fill="#1a1a1a" stroke="#1a1a1a" stroke-width="0.2" >-6</text>
<line x1="72.90" y1="401.80" x2="72.90" y2="400.30" stroke="#1a1a1a" stroke-width="1.0" />
<line x1="105.40" y1="401.80" x2="105.40" y2="399.60" stroke="#1a1a1a" stroke-width="1.0" />
<line x1="137.90" y1="401.80" x2="137.90" y2="400.30" stroke="#1a1a1a" stroke-width="1.0" />
<line x1="170.40" y1="401.80" x2="170.40" y2="399.60" stroke="#1a1a1a" stroke-width="1.0" />
<line x1="202.90" y1="401.80" x2="202.90" y2="400.30" stroke="#1a1a1a" stroke-width="1.0" />
<text x="40.40" y="414.70" font-size="13" text-anchor="middle" fill="#1a1a1a" stroke="#1a1a1a" stroke-width="0.2" >15</text>
<text x="105.40" y="414.70" font-size="13" text-anchor="middle" fill="#1a1a1a" stroke="#1a1a1a" stroke-width="0.2" >20</text>
<text x="170.40" y="414.70" font-size="13" text-anchor="middle" fill="#1a1a1a" stroke="#1a1a1a" stroke-width="0.2" >25</text>
<text x="235.40" y="414.70" font-size="13" text-anchor="middle" fill="#1a1a1a" stroke="#1a1a1a" stroke-width="0.2" >30</text>
<text x="137.90" y="429.20" font-size="12.2" text-anchor="middle" fill="#1a1a1a" stroke="#1a1a1a" stroke-width="0.2" >Z (Å)</text>
<text transform="translate(21.60,350.50) rotate(-90)" font-size="12.7" text-anchor="middle" fill="#1a1a1a" stroke="#1a1a1a" stroke-width="0.2">Δρ (10<tspan font-size="0.6em" dy="-4">−3</tspan><tspan dy="4">e/Å)</tspan></text>
<text x="47.30" y="392.10" font-size="12" text-anchor="start" fill="#1a1a1a" stroke="#1a1a1a" stroke-width="0.2" >MoS<tspan font-size="0.62em" dy="0.45em">2</tspan><tspan dy="-0.279em">-Au close</tspan></text>
<text x="286.50" y="302.30" font-size="13" text-anchor="start" fill="#1a1a1a" stroke="#1a1a1a" stroke-width="0.2" >(f)</text>
<path d="M315.80,352.10 L315.80,352.10 L316.05,351.96 L316.30,351.83 L316.55,351.70 L316.80,351.56 L317.05,351.44 L317.30,351.31 L317.55,351.19 L317.80,351.08 L318.05,350.97 L318.30,350.87 L318.55,350.77 L318.80,350.68 L319.05,350.60 L319.30,350.53 L319.55,350.47 L319.80,350.42 L320.05,350.37 L320.30,350.34 L320.55,350.32 L320.80,350.30 L321.05,350.30 L321.30,350.31 L321.55,350.33 L321.80,350.37 L322.05,350.42 L322.30,350.48 L322.55,350.56 L322.80,350.64 L323.05,350.74 L323.30,350.85 L323.55,350.97 L323.80,351.09 L324.05,351.23 L324.30,351.37 L324.55,351.51 L324.80,351.66 L325.05,351.82 L325.30,351.97 L325.55,352.10 L325.80,352.10 L326.05,352.10 L326.30,352.10 L326.55,352.10 L326.80,352.10 L327.05,352.10 L327.30,352.10 L327.55,352.10 L327.80,352.10 L328.05,352.10 L328.30,352.10 L328.55,352.10 L328.80,352.10 L329.05,352.10 L329.30,352.10 L329.55,352.10 L329.80,352.10 L330.05,352.10 L330.30,352.10 L330.55,352.10 L330.80,352.10 L331.05,352.10 L331.30,352.10 L331.55,352.10 L331.80,352.10 L332.05,352.10 L332.30,352.10 L332.55,352.10 L332.80,352.10 L333.05,352.10 L333.30,352.10 L333.55,352.10 L333.80,352.10 L334.05,352.10 L334.30,352.10 L334.55,352.10 L334.80,352.10 L335.05,352.10 L335.30,352.10 L335.55,352.10 L335.80,352.10 L336.05,352.10 L336.30,352.10 L336.55,352.10 L336.80,352.10 L337.05,352.10 L337.30,352.10 L337.55,352.10 L337.80,352.10 L338.05,352.10 L338.30,352.10 L338.55,352.10 L338.80,352.10 L339.05,352.10 L339.30,352.10 L339.55,351.84 L339.80,351.58 L340.05,351.34 L340.30,351.11 L340.55,350.90 L340.80,350.72 L341.05,350.57 L341.30,350.45 L341.55,350.36 L341.80,350.31 L342.05,350.30 L342.30,350.33 L342.55,350.39 L342.80,350.48 L343.05,350.60 L343.30,350.76 L343.55,350.94 L343.80,351.14 L344.05,351.36 L344.30,351.60 L344.55,351.85 L344.80,352.10 L345.05,352.10 L345.30,352.10 L345.55,352.10 L345.80,352.10 L346.05,352.10 L346.30,352.10 L346.55,352.10 L346.80,352.10 L347.05,352.10 L347.30,352.10 L347.55,352.10 L347.80,352.10 L348.05,352.10 L348.30,352.10 L348.55,352.04 L348.80,351.73 L349.05,351.43 L349.30,351.13 L349.55,350.83 L349.80,350.54 L350.05,350.26 L350.30,349.98 L350.55,349.71 L350.80,349.46 L351.05,349.21 L351.30,348.98 L351.55,348.76 L351.80,348.56 L352.05,348.37 L352.30,348.20 L352.55,348.05 L352.80,347.91 L353.05,347.79 L353.30,347.70 L353.55,347.62 L353.80,347.56 L354.05,347.52 L354.30,347.50 L354.55,347.50 L354.80,347.52 L355.05,347.55 L355.30,347.59 L355.55,347.65 L355.80,347.73 L356.05,347.81 L356.30,347.91 L356.55,348.03 L356.80,348.15 L357.05,348.29 L357.30,348.44 L357.55,348.60 L357.80,348.78 L358.05,348.96 L358.30,349.15 L358.55,349.35 L358.80,349.57 L359.05,349.79 L359.30,350.01 L359.55,350.24 L359.80,350.48 L360.05,350.73 L360.30,350.98 L360.55,351.23 L360.80,351.48 L361.05,351.74 L361.30,352.00 L361.55,352.10 L361.80,352.10 L362.05,352.10 L362.30,352.10 L362.55,352.10 L362.80,352.10 L363.05,352.10 L363.30,352.10 L363.55,352.10 L363.80,352.10 L364.05,352.10 L364.30,352.10 L364.55,352.10 L364.80,352.10 L365.05,352.10 L365.30,352.10 L365.55,352.10 L365.80,352.10 L366.05,352.10 L366.30,352.10 L366.55,352.10 L366.80,352.10 L367.05,352.10 L367.30,352.10 L367.55,352.10 L367.80,352.10 L368.05,352.10 L368.30,352.10 L368.55,352.10 L368.80,352.10 L369.05,352.10 L369.30,352.10 L369.55,352.10 L369.80,352.10 L370.05,352.10 L370.30,352.10 L370.55,352.10 L370.80,352.10 L371.05,352.10 L371.30,352.10 L371.55,352.10 L371.80,352.10 L372.05,352.10 L372.30,352.10 L372.55,352.10 L372.80,352.10 L373.05,352.10 L373.30,352.10 L373.55,352.10 L373.80,352.10 L374.05,352.10 L374.30,352.10 L374.55,352.10 L374.80,352.10 L375.05,352.10 L375.30,352.10 L375.55,352.10 L375.80,352.10 L376.05,352.10 L376.30,352.10 L376.55,352.10 L376.80,352.10 L377.05,352.10 L377.30,352.10 L377.55,352.10 L377.80,352.10 L378.05,352.10 L378.30,352.10 L378.55,352.10 L378.80,352.10 L379.05,352.10 L379.30,352.10 L379.55,352.10 L379.80,352.10 L380.05,352.10 L380.30,352.10 L380.55,352.10 L380.80,352.10 L381.05,352.10 L381.30,352.10 L381.55,352.10 L381.80,352.10 L382.05,351.44 L382.30,350.79 L382.55,350.14 L382.80,349.49 L383.05,348.86 L383.30,348.23 L383.55,347.61 L383.80,347.00 L384.05,346.40 L384.30,345.83 L384.55,345.26 L384.80,344.72 L385.05,344.20 L385.30,343.69 L385.55,343.21 L385.80,342.76 L386.05,342.32 L386.30,341.92 L386.55,341.54 L386.80,341.19 L387.05,340.87 L387.30,340.58 L387.55,340.32 L387.80,340.09 L388.05,339.89 L388.30,339.73 L388.55,339.60 L388.80,339.50 L389.05,339.43 L389.30,339.40 L389.55,339.41 L389.80,339.45 L390.05,339.52 L390.30,339.63 L390.55,339.78 L390.80,339.96 L391.05,340.17 L391.30,340.42 L391.55,340.70 L391.80,341.01 L392.05,341.36 L392.30,341.73 L392.55,342.13 L392.80,342.57 L393.05,343.02 L393.30,343.51 L393.55,344.02 L393.80,344.55 L394.05,345.10 L394.30,345.67 L394.55,346.26 L394.80,346.87 L395.05,347.49 L395.30,348.12 L395.55,348.77 L395.80,349.42 L396.05,350.09 L396.30,350.75 L396.55,351.43 L396.80,352.10 L397.05,352.10 L397.30,352.10 L397.55,352.10 L397.80,352.10 L398.05,352.10 L398.30,352.10 L398.55,352.10 L398.80,352.10 L399.05,352.10 L399.30,352.10 L399.55,352.10 L399.80,352.10 L400.05,352.10 L400.30,352.10 L400.55,352.10 L400.80,352.10 L401.05,352.10 L401.30,352.10 L401.55,352.10 L401.80,352.10 L402.05,352.10 L402.30,352.10 L402.55,352.10 L402.80,352.10 L403.05,352.10 L403.30,352.10 L403.55,352.10 L403.80,351.79 L404.05,351.00 L404.30,350.22 L404.55,349.44 L404.80,348.67 L405.05,347.91 L405.30,347.16 L405.55,346.42 L405.80,345.69 L406.05,344.98 L406.30,344.28 L406.55,343.61 L406.80,342.95 L407.05,342.32 L407.30,341.71 L407.55,341.12 L407.80,340.57 L408.05,340.04 L408.30,339.53 L408.55,339.06 L408.80,338.62 L409.05,338.22 L409.30,337.84 L409.55,337.50 L409.80,337.20 L410.05,336.93 L410.30,336.70 L410.55,336.51 L410.80,336.35 L411.05,336.23 L411.30,336.15 L411.55,336.11 L411.80,336.10 L412.05,336.14 L412.30,336.21 L412.55,336.32 L412.80,336.46 L413.05,336.65 L413.30,336.86 L413.55,337.12 L413.80,337.41 L414.05,337.73 L414.30,338.09 L414.55,338.48 L414.80,338.91 L415.05,339.36 L415.30,339.84 L415.55,340.36 L415.80,340.90 L416.05,341.46 L416.30,342.06 L416.55,342.67 L416.80,343.31 L417.05,343.97 L417.30,344.64 L417.55,345.34 L417.80,346.05 L418.05,346.77 L418.30,347.51 L418.55,348.26 L418.80,349.02 L419.05,349.78 L419.30,350.55 L419.55,351.32 L419.80,352.10 L420.05,352.10 L420.30,352.10 L420.55,352.10 L420.80,352.10 L421.05,352.10 L421.30,352.10 L421.55,352.10 L421.80,352.10 L422.05,352.10 L422.30,352.10 L422.55,352.10 L422.80,352.10 L423.05,352.10 L423.30,352.10 L423.55,352.10 L423.80,352.10 L424.05,352.10 L424.30,352.10 L424.55,352.10 L424.80,352.10 L425.05,352.10 L425.30,352.10 L425.55,352.10 L425.80,352.10 L426.05,352.10 L426.30,352.10 L426.55,352.10 L426.80,352.10 L427.05,352.10 L427.30,352.10 L427.55,352.10 L427.80,352.10 L428.05,352.10 L428.30,352.10 L428.55,352.10 L428.80,352.10 L429.05,352.10 L429.30,352.10 L429.55,352.10 L429.80,352.10 L430.05,352.10 L430.30,352.10 L430.55,352.10 L430.80,352.10 L431.05,352.10 L431.30,352.10 L431.55,352.10 L431.80,352.10 L432.05,352.10 L432.30,352.10 L432.55,351.20 L432.80,349.71 L433.05,348.26 L433.30,346.88 L433.55,345.59 L433.80,344.40 L434.05,343.36 L434.30,342.46 L434.55,341.72 L434.80,341.16 L435.05,340.79 L435.30,340.62 L435.55,340.63 L435.80,340.82 L436.05,341.18 L436.30,341.70 L436.55,342.38 L436.80,343.21 L437.05,344.17 L437.30,345.25 L437.55,346.43 L437.80,347.70 L438.05,349.03 L438.30,350.41 L438.55,351.82 L438.80,352.10 L439.05,352.10 L439.30,352.10 L439.55,352.10 L439.80,352.10 L440.05,352.10 L440.30,352.10 L440.55,352.10 L440.80,352.10 L441.05,352.10 L441.30,352.10 L441.55,352.10 L441.80,352.10 L442.05,352.10 L442.30,352.10 L442.55,352.10 L442.80,352.10 L443.05,352.10 L443.30,352.10 L443.55,352.10 L443.80,352.10 L444.05,352.10 L444.30,352.10 L444.55,352.10 L444.80,352.10 L445.05,352.10 L445.30,352.10 L445.55,352.10 L445.80,352.10 L446.05,352.10 L446.30,352.10 L446.55,352.10 L446.80,352.10 L447.05,352.10 L447.30,352.10 L447.55,352.10 L447.80,352.10 L448.05,352.10 L448.30,352.10 L448.55,351.96 L448.80,351.24 L449.05,350.53 L449.30,349.83 L449.55,349.17 L449.80,348.53 L450.05,347.94 L450.30,347.39 L450.55,346.90 L450.80,346.47 L451.05,346.09 L451.30,345.79 L451.55,345.56 L451.80,345.40 L452.05,345.31 L452.30,345.30 L452.55,345.32 L452.80,345.35 L453.05,345.40 L453.30,345.46 L453.55,345.54 L453.80,345.63 L454.05,345.74 L454.30,345.87 L454.55,346.01 L454.80,346.16 L455.05,346.32 L455.30,346.49 L455.55,346.68 L455.80,346.87 L456.05,347.07 L456.30,347.28 L456.55,347.49 L456.80,347.71 L457.05,347.94 L457.30,348.16 L457.55,348.39 L457.80,348.62 L458.05,348.85 L458.30,349.07 L458.55,349.29 L458.80,349.51 L459.05,349.73 L459.30,349.94 L459.55,350.14 L459.80,350.33 L460.05,350.52 L460.30,350.69 L460.55,350.86 L460.80,351.02 L461.05,351.17 L461.30,351.30 L461.55,351.43 L461.80,351.54 L462.05,351.64 L462.30,351.73 L462.55,351.81 L462.80,351.88 L463.05,351.94 L463.30,351.99 L463.55,352.02 L463.80,352.05 L464.05,352.07 L464.30,352.09 L464.55,352.10 L464.80,352.10 L465.05,352.10 L465.30,352.10 L465.55,352.10 L465.80,352.10 L466.05,352.10 L466.30,352.10 L466.55,352.10 L466.80,352.10 L467.05,352.10 L467.30,352.10 L467.55,352.10 L467.80,352.10 L468.05,352.10 L468.30,352.10 L468.55,352.10 L468.80,352.10 L469.05,352.10 L469.30,352.10 L469.55,352.10 L469.80,352.10 L470.05,352.10 L470.30,352.10 L470.55,352.10 L470.80,352.10 L471.05,352.10 L471.30,352.10 L471.55,352.10 L471.80,352.10 L472.05,352.10 L472.30,352.10 L472.55,352.10 L472.80,352.10 L473.05,352.10 L473.30,352.10 L473.55,352.10 L473.80,352.10 L474.05,352.10 L474.30,352.10 L474.55,352.10 L474.80,352.10 L475.05,352.10 L475.30,352.10 L475.55,352.10 L475.80,352.10 L476.05,352.10 L476.30,352.10 L476.55,352.10 L476.80,352.10 L477.05,352.10 L477.30,352.10 L477.55,352.10 L477.80,352.10 L478.05,352.10 L478.30,352.10 L478.55,352.10 L478.80,352.10 L479.05,352.10 L479.30,352.10 L479.55,352.10 L479.80,352.10 L480.05,352.10 L480.30,352.10 L480.55,352.10 L480.80,352.10 L481.05,352.10 L481.30,352.10 L481.55,352.10 L481.80,352.10 L482.05,352.10 L482.30,352.10 L482.55,352.10 L482.80,352.10 L483.05,352.10 L483.30,352.10 L483.55,352.10 L483.80,352.10 L484.05,352.10 L484.30,352.10 L484.55,352.10 L484.80,352.10 L485.05,352.10 L485.30,352.10 L485.55,352.10 L485.80,352.10 L486.05,352.10 L486.30,352.10 L486.55,352.10 L486.80,352.10 L487.05,352.10 L487.30,352.10 L487.55,352.10 L487.80,352.10 L488.05,352.10 L488.30,352.10 L488.55,352.10 L488.80,352.10 L489.05,352.10 L489.30,352.10 L489.55,352.10 L489.80,352.10 L490.05,352.10 L490.30,352.10 L490.55,352.10 L490.80,352.10 L491.05,352.10 L491.30,352.10 L491.55,352.10 L491.80,352.10 L492.05,352.10 L492.30,352.10 L492.55,352.10 L492.80,352.10 L493.05,352.10 L493.30,352.10 L493.55,352.10 L493.80,352.10 L494.05,352.10 L494.30,352.10 L494.55,352.10 L494.80,352.10 L495.05,352.10 L495.30,352.10 L495.55,352.10 L495.80,352.10 L496.05,352.10 L496.30,352.10 L496.55,352.10 L496.80,352.10 L497.05,352.10 L497.30,352.10 L497.55,352.10 L497.80,352.10 L498.05,352.10 L498.30,352.10 L498.55,352.10 L498.80,352.10 L499.05,352.10 L499.30,352.10 L499.55,352.10 L499.80,352.10 L500.05,352.10 L500.30,352.10 L500.55,352.10 L500.80,352.10 L501.05,352.10 L501.30,352.10 L501.55,352.10 L501.80,352.10 L502.05,352.10 L502.30,352.10 L502.55,352.10 L502.80,352.10 L503.05,352.10 L503.30,352.10 L503.55,352.10 L503.80,352.10 L504.05,352.10 L504.30,352.10 L504.55,352.10 L504.80,352.10 L505.05,352.10 L505.30,352.10 L505.55,352.10 L505.80,352.10 L506.05,352.10 L506.30,352.10 L506.55,352.10 L506.80,352.10 L507.05,352.10 L507.30,352.10 L507.55,352.10 L507.80,352.10 L508.05,352.10 L508.30,352.10 L508.55,352.10 L508.80,352.10 L509.05,352.10 L509.30,352.10 L509.55,352.10 L509.80,352.10 L510.05,352.10 L510.30,352.10 L510.55,352.10 L510.80,352.10 L511.05,352.10 L511.20,352.10 Z" stroke="none" stroke-width="0" fill="#ff0000" />
<path d="M315.80,352.10 L315.80,352.10 L316.05,352.10 L316.30,352.10 L316.55,352.10 L316.80,352.10 L317.05,352.10 L317.30,352.10 L317.55,352.10 L317.80,352.10 L318.05,352.10 L318.30,352.10 L318.55,352.10 L318.80,352.10 L319.05,352.10 L319.30,352.10 L319.55,352.10 L319.80,352.10 L320.05,352.10 L320.30,352.10 L320.55,352.10 L320.80,352.10 L321.05,352.10 L321.30,352.10 L321.55,352.10 L321.80,352.10 L322.05,352.10 L322.30,352.10 L322.55,352.10 L322.80,352.10 L323.05,352.10 L323.30,352.10 L323.55,352.10 L323.80,352.10 L324.05,352.10 L324.30,352.10 L324.55,352.10 L324.80,352.10 L325.05,352.10 L325.30,352.10 L325.55,352.10 L325.80,352.10 L326.05,352.15 L326.30,352.39 L326.55,352.63 L326.80,352.87 L327.05,353.10 L327.30,353.34 L327.55,353.56 L327.80,353.78 L328.05,353.99 L328.30,354.20 L328.55,354.39 L328.80,354.58 L329.05,354.75 L329.30,354.91 L329.55,355.06 L329.80,355.20 L330.05,355.33 L330.30,355.44 L330.55,355.54 L330.80,355.62 L331.05,355.69 L331.30,355.74 L331.55,355.77 L331.80,355.79 L332.05,355.80 L332.30,355.79 L332.55,355.75 L332.80,355.70 L333.05,355.63 L333.30,355.55 L333.55,355.44 L333.80,355.32 L334.05,355.18 L334.30,355.03 L334.55,354.86 L334.80,354.68 L335.05,354.48 L335.30,354.27 L335.55,354.06 L335.80,353.83 L336.05,353.59 L336.30,353.34 L336.55,353.09 L336.80,352.83 L337.05,352.57 L337.30,352.31 L337.55,352.10 L337.80,352.10 L338.05,352.10 L338.30,352.10 L338.55,352.10 L338.80,352.10 L339.05,352.10 L339.30,352.10 L339.55,352.10 L339.80,352.10 L340.05,352.10 L340.30,352.10 L340.55,352.10 L340.80,352.10 L341.05,352.10 L341.30,352.10 L341.55,352.10 L341.80,352.10 L342.05,352.10 L342.30,352.10 L342.55,352.10 L342.80,352.10 L343.05,352.10 L343.30,352.10 L343.55,352.10 L343.80,352.10 L344.05,352.10 L344.30,352.10 L344.55,352.10 L344.80,352.10 L345.05,352.10 L345.30,352.10 L345.55,352.10 L345.80,352.10 L346.05,352.10 L346.30,352.10 L346.55,352.10 L346.80,352.10 L347.05,352.10 L347.30,352.10 L347.55,352.10 L347.80,352.10 L348.05,352.10 L348.30,352.10 L348.55,352.10 L348.80,352.10 L349.05,352.10 L349.30,352.10 L349.55,352.10 L349.80,352.10 L350.05,352.10 L350.30,352.10 L350.55,352.10 L350.80,352.10 L351.05,352.10 L351.30,352.10 L351.55,352.10 L351.80,352.10 L352.05,352.10 L352.30,352.10 L352.55,352.10 L352.80,352.10 L353.05,352.10 L353.30,352.10 L353.55,352.10 L353.80,352.10 L354.05,352.10 L354.30,352.10 L354.55,352.10 L354.80,352.10 L355.05,352.10 L355.30,352.10 L355.55,352.10 L355.80,352.10 L356.05,352.10 L356.30,352.10 L356.55,352.10 L356.80,352.10 L357.05,352.10 L357.30,352.10 L357.55,352.10 L357.80,352.10 L358.05,352.10 L358.30,352.10 L358.55,352.10 L358.80,352.10 L359.05,352.10 L359.30,352.10 L359.55,352.10 L359.80,352.10 L360.05,352.10 L360.30,352.10 L360.55,352.10 L360.80,352.10 L361.05,352.10 L361.30,352.10 L361.55,352.10 L361.80,352.10 L362.05,352.13 L362.30,352.30 L362.55,352.46 L362.80,352.62 L363.05,352.78 L363.30,352.93 L363.55,353.09 L363.80,353.23 L364.05,353.38 L364.30,353.52 L364.55,353.65 L364.80,353.77 L365.05,353.89 L365.30,354.00 L365.55,354.10 L365.80,354.20 L366.05,354.28 L366.30,354.36 L366.55,354.42 L366.80,354.48 L367.05,354.52 L367.30,354.56 L367.55,354.58 L367.80,354.60 L368.05,354.60 L368.30,354.59 L368.55,354.57 L368.80,354.55 L369.05,354.51 L369.30,354.46 L369.55,354.40 L369.80,354.33 L370.05,354.25 L370.30,354.16 L370.55,354.06 L370.80,353.96 L371.05,353.84 L371.30,353.72 L371.55,353.60 L371.80,353.46 L372.05,353.32 L372.30,353.18 L372.55,353.03 L372.80,352.87 L373.05,352.72 L373.30,352.56 L373.55,352.39 L373.80,352.23 L374.05,352.20 L374.30,352.73 L374.55,353.24 L374.80,353.73 L375.05,354.19 L375.30,354.62 L375.55,355.00 L375.80,355.34 L376.05,355.62 L376.30,355.83 L376.55,355.99 L376.80,356.08 L377.05,356.10 L377.30,356.08 L377.55,356.04 L377.80,355.96 L378.05,355.87 L378.30,355.74 L378.55,355.60 L378.80,355.43 L379.05,355.23 L379.30,355.02 L379.55,354.79 L379.80,354.54 L380.05,354.27 L380.30,353.99 L380.55,353.69 L380.80,353.39 L381.05,353.07 L381.30,352.75 L381.55,352.43 L381.80,352.10 L382.05,352.10 L382.30,352.10 L382.55,352.10 L382.80,352.10 L383.05,352.10 L383.30,352.10 L383.55,352.10 L383.80,352.10 L384.05,352.10 L384.30,352.10 L384.55,352.10 L384.80,352.10 L385.05,352.10 L385.30,352.10 L385.55,352.10 L385.80,352.10 L386.05,352.10 L386.30,352.10 L386.55,352.10 L386.80,352.10 L387.05,352.10 L387.30,352.10 L387.55,352.10 L387.80,352.10 L388.05,352.10 L388.30,352.10 L388.55,352.10 L388.80,352.10 L389.05,352.10 L389.30,352.10 L389.55,352.10 L389.80,352.10 L390.05,352.10 L390.30,352.10 L390.55,352.10 L390.80,352.10 L391.05,352.10 L391.30,352.10 L391.55,352.10 L391.80,352.10 L392.05,352.10 L392.30,352.10 L392.55,352.10 L392.80,352.10 L393.05,352.10 L393.30,352.10 L393.55,352.10 L393.80,352.10 L394.05,352.10 L394.30,352.10 L394.55,352.10 L394.80,352.10 L395.05,352.10 L395.30,352.10 L395.55,352.10 L395.80,352.10 L396.05,352.10 L396.30,352.10 L396.55,352.10 L396.80,352.10 L397.05,352.87 L397.30,353.62 L397.55,354.34 L397.80,355.01 L398.05,355.62 L398.30,356.16 L398.55,356.61 L398.80,356.97 L399.05,357.22 L399.30,357.36 L399.55,357.40 L399.80,357.37 L400.05,357.29 L400.30,357.16 L400.55,357.00 L400.80,356.79 L401.05,356.53 L401.30,356.24 L401.55,355.92 L401.80,355.56 L402.05,355.17 L402.30,354.75 L402.55,354.31 L402.80,353.85 L403.05,353.38 L403.30,352.89 L403.55,352.40 L403.80,352.10 L404.05,352.10 L404.30,352.10 L404.55,352.10 L404.80,352.10 L405.05,352.10 L405.30,352.10 L405.55,352.10 L405.80,352.10 L406.05,352.10 L406.30,352.10 L406.55,352.10 L406.80,352.10 L407.05,352.10 L407.30,352.10 L407.55,352.10 L407.80,352.10 L408.05,352.10 L408.30,352.10 L408.55,352.10 L408.80,352.10 L409.05,352.10 L409.30,352.10 L409.55,352.10 L409.80,352.10 L410.05,352.10 L410.30,352.10 L410.55,352.10 L410.80,352.10 L411.05,352.10 L411.30,352.10 L411.55,352.10 L411.80,352.10 L412.05,352.10 L412.30,352.10 L412.55,352.10 L412.80,352.10 L413.05,352.10 L413.30,352.10 L413.55,352.10 L413.80,352.10 L414.05,352.10 L414.30,352.10 L414.55,352.10 L414.80,352.10 L415.05,352.10 L415.30,352.10 L415.55,352.10 L415.80,352.10 L416.05,352.10 L416.30,352.10 L416.55,352.10 L416.80,352.10 L417.05,352.10 L417.30,352.10 L417.55,352.10 L417.80,352.10 L418.05,352.10 L418.30,352.10 L418.55,352.10 L418.80,352.10 L419.05,352.10 L419.30,352.10 L419.55,352.10 L419.80,352.10 L420.05,353.88 L420.30,355.65 L420.55,357.41 L420.80,359.15 L421.05,360.86 L421.30,362.54 L421.55,364.18 L421.80,365.77 L422.05,367.31 L422.30,368.80 L422.55,370.22 L422.80,371.58 L423.05,372.86 L423.30,374.06 L423.55,375.18 L423.80,376.21 L424.05,377.16 L424.30,378.00 L424.55,378.75 L424.80,379.40 L425.05,379.95 L425.30,380.40 L425.55,380.73 L425.80,380.96 L426.05,381.08 L426.30,381.09 L426.55,380.99 L426.80,380.77 L427.05,380.43 L427.30,379.98 L427.55,379.42 L427.80,378.75 L428.05,377.97 L428.30,377.09 L428.55,376.11 L428.80,375.03 L429.05,373.86 L429.30,372.61 L429.55,371.27 L429.80,369.85 L430.05,368.36 L430.30,366.81 L430.55,365.20 L430.80,363.54 L431.05,361.83 L431.30,360.08 L431.55,358.30 L431.80,356.49 L432.05,354.67 L432.30,352.83 L432.55,352.10 L432.80,352.10 L433.05,352.10 L433.30,352.10 L433.55,352.10 L433.80,352.10 L434.05,352.10 L434.30,352.10 L434.55,352.10 L434.80,352.10 L435.05,352.10 L435.30,352.10 L435.55,352.10 L435.80,352.10 L436.05,352.10 L436.30,352.10 L436.55,352.10 L436.80,352.10 L437.05,352.10 L437.30,352.10 L437.55,352.10 L437.80,352.10 L438.05,352.10 L438.30,352.10 L438.55,352.10 L438.80,352.99 L439.05,354.09 L439.30,355.19 L439.55,356.27 L439.80,357.32 L440.05,358.35 L440.30,359.34 L440.55,360.29 L440.80,361.20 L441.05,362.06 L441.30,362.86 L441.55,363.61 L441.80,364.29 L442.05,364.90 L442.30,365.44 L442.55,365.92 L442.80,366.31 L443.05,366.63 L443.30,366.86 L443.55,367.02 L443.80,367.09 L444.05,367.08 L444.30,366.96 L444.55,366.73 L444.80,366.40 L445.05,365.96 L445.30,365.42 L445.55,364.78 L445.80,364.05 L446.05,363.24 L446.30,362.34 L446.55,361.37 L446.80,360.33 L447.05,359.23 L447.30,358.08 L447.55,356.88 L447.80,355.65 L448.05,354.40 L448.30,353.12 L448.55,352.10 L448.80,352.10 L449.05,352.10 L449.30,352.10 L449.55,352.10 L449.80,352.10 L450.05,352.10 L450.30,352.10 L450.55,352.10 L450.80,352.10 L451.05,352.10 L451.30,352.10 L451.55,352.10 L451.80,352.10 L452.05,352.10 L452.30,352.10 L452.55,352.10 L452.80,352.10 L453.05,352.10 L453.30,352.10 L453.55,352.10 L453.80,352.10 L454.05,352.10 L454.30,352.10 L454.55,352.10 L454.80,352.10 L455.05,352.10 L455.30,352.10 L455.55,352.10 L455.80,352.10 L456.05,352.10 L456.30,352.10 L456.55,352.10 L456.80,352.10 L457.05,352.10 L457.30,352.10 L457.55,352.10 L457.80,352.10 L458.05,352.10 L458.30,352.10 L458.55,352.10 L458.80,352.10 L459.05,352.10 L459.30,352.10 L459.55,352.10 L459.80,352.10 L460.05,352.10 L460.30,352.10 L460.55,352.10 L460.80,352.10 L461.05,352.10 L461.30,352.10 L461.55,352.10 L461.80,352.10 L462.05,352.10 L462.30,352.10 L462.55,352.10 L462.80,352.10 L463.05,352.10 L463.30,352.10 L463.55,352.10 L463.80,352.10 L464.05,352.10 L464.30,352.10 L464.55,352.10 L464.80,352.10 L465.05,352.25 L465.30,352.28 L465.55,352.32 L465.80,352.35 L466.05,352.39 L466.30,352.42 L466.55,352.46 L466.80,352.49 L467.05,352.52 L467.30,352.55 L467.55,352.59 L467.80,352.62 L468.05,352.65 L468.30,352.68 L468.55,352.70 L468.80,352.73 L469.05,352.76 L469.30,352.79 L469.55,352.81 L469.80,352.84 L470.05,352.86 L470.30,352.88 L470.55,352.90 L470.80,352.93 L471.05,352.95 L471.30,352.96 L471.55,352.98 L471.80,353.00 L472.05,353.01 L472.30,353.03 L472.55,353.04 L472.80,353.05 L473.05,353.06 L473.30,353.07 L473.55,353.08 L473.80,353.09 L474.05,353.09 L474.30,353.10 L474.55,353.10 L474.80,353.10 L475.05,353.10 L475.30,353.10 L475.55,353.10 L475.80,353.10 L476.05,353.10 L476.30,353.10 L476.55,353.09 L476.80,353.09 L477.05,353.09 L477.30,353.09 L477.55,353.08 L477.80,353.08 L478.05,353.08 L478.30,353.07 L478.55,353.07 L478.80,353.07 L479.05,353.06 L479.30,353.06 L479.55,353.05 L479.80,353.05 L480.05,353.04 L480.30,353.04 L480.55,353.03 L480.80,353.02 L481.05,353.02 L481.30,353.01 L481.55,353.00 L481.80,352.99 L482.05,352.99 L482.30,352.98 L482.55,352.97 L482.80,352.96 L483.05,352.95 L483.30,352.94 L483.55,352.93 L483.80,352.92 L484.05,352.91 L484.30,352.90 L484.55,352.89 L484.80,352.88 L485.05,352.87 L485.30,352.86 L485.55,352.85 L485.80,352.84 L486.05,352.83 L486.30,352.82 L486.55,352.80 L486.80,352.79 L487.05,352.78 L487.30,352.77 L487.55,352.75 L487.80,352.74 L488.05,352.73 L488.30,352.72 L488.55,352.70 L488.80,352.69 L489.05,352.67 L489.30,352.66 L489.55,352.65 L489.80,352.63 L490.05,352.62 L490.30,352.60 L490.55,352.59 L490.80,352.57 L491.05,352.56 L491.30,352.54 L491.55,352.53 L491.80,352.51 L492.05,352.50 L492.30,352.48 L492.55,352.46 L492.80,352.45 L493.05,352.43 L493.30,352.42 L493.55,352.40 L493.80,352.38 L494.05,352.37 L494.30,352.35 L494.55,352.33 L494.80,352.32 L495.05,352.30 L495.30,352.28 L495.55,352.27 L495.80,352.25 L496.05,352.23 L496.30,352.22 L496.55,352.20 L496.80,352.18 L497.05,352.16 L497.30,352.15 L497.55,352.13 L497.80,352.11 L498.05,352.10 L498.30,352.10 L498.55,352.10 L498.80,352.10 L499.05,352.10 L499.30,352.10 L499.55,352.10 L499.80,352.10 L500.05,352.10 L500.30,352.10 L500.55,352.10 L500.80,352.10 L501.05,352.10 L501.30,352.10 L501.55,352.10 L501.80,352.10 L502.05,352.10 L502.30,352.10 L502.55,352.10 L502.80,352.10 L503.05,352.10 L503.30,352.10 L503.55,352.10 L503.80,352.10 L504.05,352.10 L504.30,352.10 L504.55,352.10 L504.80,352.10 L505.05,352.10 L505.30,352.10 L505.55,352.10 L505.80,352.10 L506.05,352.10 L506.30,352.10 L506.55,352.10 L506.80,352.10 L507.05,352.10 L507.30,352.10 L507.55,352.10 L507.80,352.10 L508.05,352.10 L508.30,352.10 L508.55,352.10 L508.80,352.10 L509.05,352.10 L509.30,352.10 L509.55,352.10 L509.80,352.10 L510.05,352.10 L510.30,352.10 L510.55,352.10 L510.80,352.10 L511.05,352.10 L511.20,352.10 Z" stroke="none" stroke-width="0" fill="#0000ff" />
<line x1="315.80" y1="352.10" x2="511.20" y2="352.10" stroke="#1a1a1a" stroke-width="1.2" />
<line x1="388.30" y1="301.40" x2="388.30" y2="402.00" stroke="#333" stroke-width="0.9" stroke-dasharray="1.6,1.6"/>
<line x1="435.40" y1="301.40" x2="435.40" y2="402.00" stroke="#333" stroke-width="0.9" stroke-dasharray="1.6,1.6"/>
<line x1="455.40" y1="301.40" x2="455.40" y2="402.00" stroke="#333" stroke-width="0.9" stroke-dasharray="1.6,1.6"/>
<line x1="476.00" y1="301.40" x2="476.00" y2="402.00" stroke="#333" stroke-width="0.9" stroke-dasharray="1.6,1.6"/>
<text x="389.00" y="318.00" font-size="11.8" text-anchor="middle" fill="#1a1a1a" stroke="#1a1a1a" stroke-width="0.2" >Au</text>
<text x="435.80" y="318.00" font-size="11.8" text-anchor="middle" fill="#1a1a1a" stroke="#1a1a1a" stroke-width="0.2" >S</text>
<text x="456.40" y="318.00" font-size="11.8" text-anchor="middle" fill="#1a1a1a" stroke="#1a1a1a" stroke-width="0.2" >Mo</text>
<text x="476.50" y="318.00" font-size="11.8" text-anchor="middle" fill="#1a1a1a" stroke="#1a1a1a" stroke-width="0.2" >S</text>
<rect x="315.80" y="301.40" width="195.40" height="100.60" fill="none" stroke="#1a1a1a" stroke-width="1.6" />
<line x1="315.80" y1="301.10" x2="318.30" y2="301.10" stroke="#1a1a1a" stroke-width="1.0" />
<line x1="315.80" y1="318.10" x2="318.30" y2="318.10" stroke="#1a1a1a" stroke-width="1.0" />
<text x="312.80" y="321.80" font-size="12.7" text-anchor="end" fill="#1a1a1a" stroke="#1a1a1a" stroke-width="0.2" >2</text>
<line x1="315.80" y1="335.10" x2="317.30" y2="335.10" stroke="#1a1a1a" stroke-width="1.0" />
<line x1="315.80" y1="352.10" x2="318.30" y2="352.10" stroke="#1a1a1a" stroke-width="1.0" />
<text x="312.80" y="355.80" font-size="12.7" text-anchor="end" fill="#1a1a1a" stroke="#1a1a1a" stroke-width="0.2" >0</text>
<line x1="315.80" y1="369.10" x2="317.30" y2="369.10" stroke="#1a1a1a" stroke-width="1.0" />
<line x1="315.80" y1="386.10" x2="318.30" y2="386.10" stroke="#1a1a1a" stroke-width="1.0" />
<text x="312.80" y="389.80" font-size="12.7" text-anchor="end" fill="#1a1a1a" stroke="#1a1a1a" stroke-width="0.2" >-2</text>
<line x1="315.80" y1="403.10" x2="318.30" y2="403.10" stroke="#1a1a1a" stroke-width="1.0" />
<line x1="348.30" y1="402.00" x2="348.30" y2="400.50" stroke="#1a1a1a" stroke-width="1.0" />
<line x1="380.80" y1="402.00" x2="380.80" y2="399.80" stroke="#1a1a1a" stroke-width="1.0" />
<line x1="413.30" y1="402.00" x2="413.30" y2="400.50" stroke="#1a1a1a" stroke-width="1.0" />
<line x1="445.80" y1="402.00" x2="445.80" y2="399.80" stroke="#1a1a1a" stroke-width="1.0" />
<line x1="478.30" y1="402.00" x2="478.30" y2="400.50" stroke="#1a1a1a" stroke-width="1.0" />
<text x="315.80" y="414.70" font-size="13" text-anchor="middle" fill="#1a1a1a" stroke="#1a1a1a" stroke-width="0.2" >15</text>
<text x="380.80" y="414.70" font-size="13" text-anchor="middle" fill="#1a1a1a" stroke="#1a1a1a" stroke-width="0.2" >20</text>
<text x="445.80" y="414.70" font-size="13" text-anchor="middle" fill="#1a1a1a" stroke="#1a1a1a" stroke-width="0.2" >25</text>
<text x="510.80" y="414.70" font-size="13" text-anchor="middle" fill="#1a1a1a" stroke="#1a1a1a" stroke-width="0.2" >30</text>
<text x="413.50" y="429.20" font-size="12.2" text-anchor="middle" fill="#1a1a1a" stroke="#1a1a1a" stroke-width="0.2" >Z (Å)</text>
<text transform="translate(297.80,350.50) rotate(-90)" font-size="12.7" text-anchor="middle" fill="#1a1a1a" stroke="#1a1a1a" stroke-width="0.2">Δρ (10<tspan font-size="0.6em" dy="-4">−3</tspan><tspan dy="4">e/Å)</tspan></text>
<text x="323.80" y="392.80" font-size="12" text-anchor="start" fill="#1a1a1a" stroke="#1a1a1a" stroke-width="0.2" >MoS<tspan font-size="0.62em" dy="0.45em">2</tspan><tspan dy="-0.279em">-Au vdW</tspan></text>
</svg></body></html>
